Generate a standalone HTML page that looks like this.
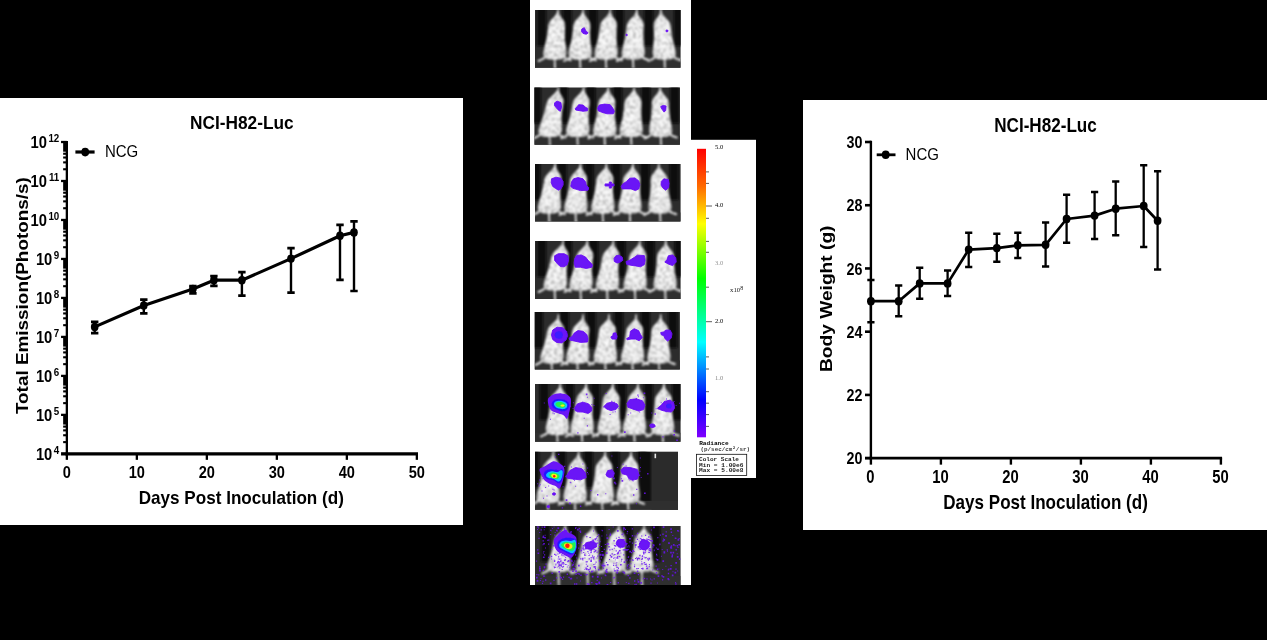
<!DOCTYPE html>
<html><head><meta charset="utf-8"><title>NCI-H82-Luc</title>
<style>html,body{margin:0;padding:0;background:#000;overflow:hidden}svg{display:block;opacity:0.999}text{font-family:"Liberation Sans",sans-serif;fill:#000}.b{font-weight:bold}.mono{font-family:"Liberation Mono",monospace}.serif{font-family:"Liberation Serif",serif}</style></head><body>
<svg width="1267" height="640" viewBox="0 0 1267 640">
<rect x="0" y="0" width="1267" height="640" fill="#000"/>
<rect x="0" y="98" width="463" height="427" fill="#fff"/>
<g stroke="#000" fill="none" stroke-linecap="butt">
<path d="M66.85,140.91000000000005 V455.5" stroke-width="2.3"/>
<path d="M65.69999999999999,453.85 H418.0" stroke-width="3.3"/>
</g>
<g stroke="#000" stroke-width="2.3" fill="none">
<path d="M61.05,414.87 H66.85"/>
<path d="M61.05,375.89000000000004 H66.85"/>
<path d="M61.05,336.91 H66.85"/>
<path d="M61.05,297.93000000000006 H66.85"/>
<path d="M61.05,258.95000000000005 H66.85"/>
<path d="M61.05,219.97000000000003 H66.85"/>
<path d="M61.05,180.99000000000007 H66.85"/>
<path d="M61.05,142.01000000000005 H66.85"/>
<path d="M61.05,453.85 H66.85" stroke-width="3.3"/>
<path d="M66.85,453.85 V459.85"/>
<path d="M136.85,453.85 V459.85"/>
<path d="M206.85,453.85 V459.85"/>
<path d="M276.85,453.85 V459.85"/>
<path d="M346.85,453.85 V459.85"/>
<path d="M416.85,453.85 V459.85"/>
</g>
<g stroke="#000" stroke-width="2.1" fill="none">
<path d="M63.14999999999999,442.12 H66.85"/>
<path d="M63.14999999999999,435.25 H66.85"/>
<path d="M63.14999999999999,430.38 H66.85"/>
<path d="M63.14999999999999,426.60 H66.85"/>
<path d="M63.14999999999999,403.14 H66.85"/>
<path d="M63.14999999999999,396.27 H66.85"/>
<path d="M63.14999999999999,391.40 H66.85"/>
<path d="M63.14999999999999,387.62 H66.85"/>
<path d="M63.14999999999999,364.16 H66.85"/>
<path d="M63.14999999999999,357.29 H66.85"/>
<path d="M63.14999999999999,352.42 H66.85"/>
<path d="M63.14999999999999,348.64 H66.85"/>
<path d="M63.14999999999999,325.18 H66.85"/>
<path d="M63.14999999999999,318.31 H66.85"/>
<path d="M63.14999999999999,313.44 H66.85"/>
<path d="M63.14999999999999,309.66 H66.85"/>
<path d="M63.14999999999999,286.20 H66.85"/>
<path d="M63.14999999999999,279.33 H66.85"/>
<path d="M63.14999999999999,274.46 H66.85"/>
<path d="M63.14999999999999,270.68 H66.85"/>
<path d="M63.14999999999999,247.22 H66.85"/>
<path d="M63.14999999999999,240.35 H66.85"/>
<path d="M63.14999999999999,235.48 H66.85"/>
<path d="M63.14999999999999,231.70 H66.85"/>
<path d="M63.14999999999999,208.24 H66.85"/>
<path d="M63.14999999999999,201.37 H66.85"/>
<path d="M63.14999999999999,196.50 H66.85"/>
<path d="M63.14999999999999,192.72 H66.85"/>
<path d="M63.14999999999999,169.26 H66.85"/>
<path d="M63.14999999999999,162.39 H66.85"/>
<path d="M63.14999999999999,157.52 H66.85"/>
<path d="M63.14999999999999,153.74 H66.85"/>
</g>
<rect x="63.15" y="414.87" width="3.7" height="9.70" fill="#000"/>
<rect x="63.15" y="375.89" width="3.7" height="9.70" fill="#000"/>
<rect x="63.15" y="336.91" width="3.7" height="9.70" fill="#000"/>
<rect x="63.15" y="297.93" width="3.7" height="9.70" fill="#000"/>
<rect x="63.15" y="258.95" width="3.7" height="9.70" fill="#000"/>
<rect x="63.15" y="219.97" width="3.7" height="9.70" fill="#000"/>
<rect x="63.15" y="180.99" width="3.7" height="9.70" fill="#000"/>
<rect x="63.15" y="142.01" width="3.7" height="9.70" fill="#000"/>
<text class="b" transform="translate(59.3,454.2) scale(1.0,1.1)" font-size="9.8" text-anchor="end">4</text>
<text class="b" transform="translate(52.3,459.6) scale(1.0,1.13)" font-size="14.75" text-anchor="end">10</text>
<text class="b" transform="translate(59.3,415.2) scale(1.0,1.1)" font-size="9.8" text-anchor="end">5</text>
<text class="b" transform="translate(52.3,420.6) scale(1.0,1.13)" font-size="14.75" text-anchor="end">10</text>
<text class="b" transform="translate(59.3,376.2) scale(1.0,1.1)" font-size="9.8" text-anchor="end">6</text>
<text class="b" transform="translate(52.3,381.6) scale(1.0,1.13)" font-size="14.75" text-anchor="end">10</text>
<text class="b" transform="translate(59.3,337.2) scale(1.0,1.1)" font-size="9.8" text-anchor="end">7</text>
<text class="b" transform="translate(52.3,342.7) scale(1.0,1.13)" font-size="14.75" text-anchor="end">10</text>
<text class="b" transform="translate(59.3,298.2) scale(1.0,1.1)" font-size="9.8" text-anchor="end">8</text>
<text class="b" transform="translate(52.3,303.7) scale(1.0,1.13)" font-size="14.75" text-anchor="end">10</text>
<text class="b" transform="translate(59.3,259.3) scale(1.0,1.1)" font-size="9.8" text-anchor="end">9</text>
<text class="b" transform="translate(52.3,264.7) scale(1.0,1.13)" font-size="14.75" text-anchor="end">10</text>
<text class="b" transform="translate(59.3,220.3) scale(1.0,1.1)" font-size="9.8" text-anchor="end">10</text>
<text class="b" transform="translate(47.0,225.7) scale(1.0,1.13)" font-size="14.75" text-anchor="end">10</text>
<text class="b" transform="translate(59.3,181.3) scale(1.0,1.1)" font-size="9.8" text-anchor="end">11</text>
<text class="b" transform="translate(47.0,186.7) scale(1.0,1.13)" font-size="14.75" text-anchor="end">10</text>
<text class="b" transform="translate(59.3,142.3) scale(1.0,1.1)" font-size="9.8" text-anchor="end">12</text>
<text class="b" transform="translate(47.0,147.8) scale(1.0,1.13)" font-size="14.75" text-anchor="end">10</text>
<text class="b" transform="translate(66.85,478.3) scale(1.0,1.18)" font-size="14.6" text-anchor="middle">0</text>
<text class="b" transform="translate(136.85,478.3) scale(1.0,1.18)" font-size="14.6" text-anchor="middle">10</text>
<text class="b" transform="translate(206.85,478.3) scale(1.0,1.18)" font-size="14.6" text-anchor="middle">20</text>
<text class="b" transform="translate(276.85,478.3) scale(1.0,1.18)" font-size="14.6" text-anchor="middle">30</text>
<text class="b" transform="translate(346.85,478.3) scale(1.0,1.18)" font-size="14.6" text-anchor="middle">40</text>
<text class="b" transform="translate(416.85,478.3) scale(1.0,1.18)" font-size="14.6" text-anchor="middle">50</text>
<text class="b" transform="translate(241.3,504.4) scale(1.0,1.12)" font-size="17.1" text-anchor="middle">Days Post Inoculation (d)</text>
<text class="b" transform="translate(27.9,295.6) rotate(-90) scale(1.113,1.0)" font-size="17.0" text-anchor="middle">Total Emission(Photons/s)</text>
<text class="b" transform="translate(241.8,129.3) scale(1.0,1.11)" font-size="17.3" text-anchor="middle">NCI-H82-Luc</text>
<path d="M75.4,152.0 H94.6" stroke="#000" stroke-width="3.2" fill="none"/>
<ellipse cx="85.2" cy="152.1" rx="3.9" ry="4.3" fill="#000"/>
<text transform="translate(104.9,156.9) scale(1.0,1.13)" font-size="15.0" text-anchor="start">NCG</text>
<g stroke="#000" fill="none">
<path d="M94.7,321.8 V333.1" stroke-width="2.4"/><path d="M91.0,321.8 H98.4 M91.0,333.1 H98.4" stroke-width="2.7"/>
<path d="M143.8,299.7 V313.4" stroke-width="2.4"/><path d="M140.10000000000002,299.7 H147.5 M140.10000000000002,313.4 H147.5" stroke-width="2.7"/>
<path d="M192.9,286.0 V293.3" stroke-width="2.4"/><path d="M189.20000000000002,286.0 H196.6 M189.20000000000002,293.3 H196.6" stroke-width="2.7"/>
<path d="M213.9,276.2 V285.9" stroke-width="2.4"/><path d="M210.20000000000002,276.2 H217.6 M210.20000000000002,285.9 H217.6" stroke-width="2.7"/>
<path d="M241.9,272.2 V295.6" stroke-width="2.4"/><path d="M238.20000000000002,272.2 H245.6 M238.20000000000002,295.6 H245.6" stroke-width="2.7"/>
<path d="M291.0,248.1 V292.7" stroke-width="2.4"/><path d="M287.3,248.1 H294.7 M287.3,292.7 H294.7" stroke-width="2.7"/>
<path d="M340.0,224.9 V279.8" stroke-width="2.4"/><path d="M336.3,224.9 H343.7 M336.3,279.8 H343.7" stroke-width="2.7"/>
<path d="M354.0,221.3 V291.0" stroke-width="2.4"/><path d="M350.3,221.3 H357.7 M350.3,291.0 H357.7" stroke-width="2.7"/>
</g>
<path d="M94.7,326.9 L143.8,305.5 L192.9,289.0 L213.9,280.2 L241.9,280.2 L291.0,258.6 L340.0,235.7 L354.0,232.4" stroke="#000" stroke-width="3.2" fill="none" stroke-linejoin="round"/>
<ellipse cx="94.7" cy="326.9" rx="3.8" ry="4.2" fill="#000"/>
<ellipse cx="143.8" cy="305.5" rx="3.8" ry="4.2" fill="#000"/>
<ellipse cx="192.9" cy="289.0" rx="3.8" ry="4.2" fill="#000"/>
<ellipse cx="213.9" cy="280.2" rx="3.8" ry="4.2" fill="#000"/>
<ellipse cx="241.9" cy="280.2" rx="3.8" ry="4.2" fill="#000"/>
<ellipse cx="291.0" cy="258.6" rx="3.8" ry="4.2" fill="#000"/>
<ellipse cx="340.0" cy="235.7" rx="3.8" ry="4.2" fill="#000"/>
<ellipse cx="354.0" cy="232.4" rx="3.8" ry="4.2" fill="#000"/>
<defs>
<filter id="bl" x="-20%" y="-20%" width="140%" height="140%"><feGaussianBlur stdDeviation="0.8"/></filter>
<filter id="bl2" x="-20%" y="-20%" width="140%" height="140%"><feGaussianBlur stdDeviation="1.3"/></filter>
<filter id="bl3" x="-20%" y="-20%" width="140%" height="140%"><feGaussianBlur stdDeviation="0.45"/></filter>
<filter id="bl4" x="-5%" y="-5%" width="110%" height="110%"><feGaussianBlur stdDeviation="0.3"/></filter>
<filter id="fur" x="-5%" y="-5%" width="110%" height="110%" color-interpolation-filters="sRGB"><feTurbulence type="fractalNoise" baseFrequency="0.33" numOctaves="2" seed="7" result="n"/><feColorMatrix in="n" type="matrix" values="0 0 0 0 0  0 0 0 0 0  0 0 0 0 0  1.3 0 0 0 -0.56" result="na"/><feFlood flood-color="#555" result="fl"/><feComposite in="fl" in2="na" operator="in" result="dark"/><feComposite in="dark" in2="SourceGraphic" operator="in" result="darkin"/><feMerge result="m"><feMergeNode in="SourceGraphic"/><feMergeNode in="darkin"/></feMerge><feGaussianBlur in="m" stdDeviation="0.95"/></filter>
<linearGradient id="cb" x1="0" y1="0" x2="0" y2="1"><stop offset="0" stop-color="#ff0000"/><stop offset="0.13" stop-color="#ff6a00"/><stop offset="0.26" stop-color="#ffff00"/><stop offset="0.45" stop-color="#00ff00"/><stop offset="0.67" stop-color="#00ffff"/><stop offset="0.87" stop-color="#0000ff"/><stop offset="1" stop-color="#8000ff"/></linearGradient>
<radialGradient id="mg" cx="0.5" cy="0.55" r="0.72"><stop offset="0" stop-color="#ffffff"/><stop offset="0.62" stop-color="#f2f2f2"/><stop offset="1" stop-color="#bcbcbc"/></radialGradient>
</defs>
<rect x="530" y="0" width="161" height="585" fill="#fff"/>
<rect x="691" y="139.8" width="65" height="338.2" fill="#fff"/>
<clipPath id="cp0"><rect x="535" y="10.0" width="145.6" height="57.8"/></clipPath>
<g clip-path="url(#cp0)">
<rect x="534" y="9.0" width="147.6" height="59.8" fill="#2c2c2c"/>
<g filter="url(#bl)" fill="#0c0c0c">
<rect x="562.8" y="8.0" width="9" height="38"/>
<rect x="588.3" y="8.0" width="9" height="38"/>
<rect x="614.8" y="8.0" width="9" height="38"/>
<rect x="644.2" y="8.0" width="9" height="38"/>
<rect x="674.0" y="8.0" width="9" height="38"/>
<rect x="537.1" y="8.0" width="9" height="38"/>
</g>
<rect x="535" y="58.8" width="145.6" height="10" fill="#2f2f2f"/>
<g filter="url(#fur)">
<path d="M554.6,57.5 L555.1,69.8" stroke="#e0e0e0" stroke-width="2.0" fill="none"/>
<path d="M558.5,11.0 C558.7,11.3 558.6,12.1 558.9,12.9 C559.2,13.7 559.8,14.9 560.4,15.9 C561.0,16.8 561.8,17.8 562.5,18.8 C563.2,19.7 564.0,20.7 564.5,21.7 C564.9,22.6 565.0,23.6 565.1,24.6 C565.2,25.6 565.1,26.1 565.1,27.5 C565.0,28.9 564.9,30.7 564.9,32.8 C564.9,34.9 564.9,37.7 565.0,40.1 C565.2,42.5 565.7,45.3 566.0,47.4 C566.2,49.5 566.5,51.3 566.5,52.7 C566.4,54.2 566.1,55.2 565.6,56.1 C565.1,57.0 564.3,57.7 563.2,58.3 C562.2,58.9 561.6,59.3 559.4,59.5 C557.2,59.7 552.0,59.7 549.8,59.5 C547.6,59.3 547.0,58.9 546.0,58.3 C545.0,57.7 544.3,57.0 543.8,56.1 C543.3,55.2 543.2,54.2 543.3,52.7 C543.4,51.3 543.9,49.5 544.4,47.4 C544.9,45.3 545.7,42.5 546.2,40.1 C546.8,37.7 547.2,34.9 547.5,32.8 C547.8,30.7 547.9,28.9 548.1,27.5 C548.3,26.1 548.3,25.6 548.5,24.6 C548.8,23.6 549.1,22.6 549.7,21.7 C550.3,20.7 551.3,19.7 552.1,18.8 C553.0,17.8 554.0,16.8 554.8,15.9 C555.5,14.9 556.3,13.7 556.7,12.9 C557.2,12.1 557.2,11.3 557.5,11.0 C557.8,10.7 558.3,10.7 558.5,11.0 Z" fill="url(#mg)"/>
<path d="M558.0,9.0 V16.0" stroke="#f4f4f4" stroke-width="1.4" fill="none"/>
<path d="M579.9,57.5 L580.4,69.8" stroke="#e0e0e0" stroke-width="2.0" fill="none"/>
<path d="M583.6,11.0 C583.8,11.3 583.7,12.1 584.0,12.9 C584.3,13.7 584.9,14.9 585.5,15.9 C586.1,16.8 587.0,17.8 587.7,18.8 C588.3,19.7 589.2,20.7 589.6,21.7 C590.1,22.6 590.2,23.6 590.3,24.6 C590.4,25.6 590.3,26.1 590.3,27.5 C590.2,28.9 590.1,30.7 590.1,32.8 C590.1,34.9 590.1,37.7 590.3,40.1 C590.5,42.5 591.0,45.3 591.2,47.4 C591.5,49.5 591.8,51.3 591.7,52.7 C591.7,54.2 591.4,55.2 590.9,56.1 C590.4,57.0 589.6,57.7 588.5,58.3 C587.5,58.9 586.9,59.3 584.7,59.5 C582.5,59.7 577.3,59.7 575.1,59.5 C572.9,59.3 572.3,58.9 571.3,58.3 C570.3,57.7 569.6,57.0 569.1,56.1 C568.6,55.2 568.5,54.2 568.5,52.7 C568.6,51.3 569.1,49.5 569.6,47.4 C570.1,45.3 571.0,42.5 571.5,40.1 C572.0,37.7 572.4,34.9 572.7,32.8 C573.0,30.7 573.1,28.9 573.3,27.5 C573.4,26.1 573.4,25.6 573.7,24.6 C573.9,23.6 574.2,22.6 574.8,21.7 C575.4,20.7 576.4,19.7 577.3,18.8 C578.1,17.8 579.1,16.8 579.9,15.9 C580.7,14.9 581.4,13.7 581.8,12.9 C582.3,12.1 582.3,11.3 582.6,11.0 C582.9,10.7 583.4,10.7 583.6,11.0 Z" fill="url(#mg)"/>
<path d="M583.1,9.0 V16.0" stroke="#f4f4f4" stroke-width="1.4" fill="none"/>
<path d="M605.8,57.5 L606.3,69.8" stroke="#e0e0e0" stroke-width="2.0" fill="none"/>
<path d="M610.7,11.0 C610.9,11.3 610.8,12.1 611.1,12.9 C611.4,13.7 611.9,14.9 612.4,15.9 C613.0,16.8 613.8,17.8 614.5,18.8 C615.2,19.7 616.0,20.7 616.4,21.7 C616.8,22.6 616.9,23.6 617.0,24.6 C617.1,25.6 616.9,26.1 616.9,27.5 C616.8,28.9 616.6,30.7 616.5,32.8 C616.5,34.9 616.4,37.7 616.5,40.1 C616.7,42.5 617.1,45.3 617.3,47.4 C617.5,49.5 617.8,51.3 617.7,52.7 C617.7,54.2 617.4,55.2 616.8,56.1 C616.3,57.0 615.5,57.7 614.4,58.3 C613.4,58.9 612.8,59.3 610.6,59.5 C608.4,59.7 603.2,59.7 601.0,59.5 C598.8,59.3 598.2,58.9 597.2,58.3 C596.2,57.7 595.5,57.0 595.0,56.1 C594.6,55.2 594.4,54.2 594.5,52.7 C594.7,51.3 595.2,49.5 595.7,47.4 C596.3,45.3 597.2,42.5 597.7,40.1 C598.3,37.7 598.8,34.9 599.1,32.8 C599.5,30.7 599.7,28.9 599.9,27.5 C600.1,26.1 600.1,25.6 600.4,24.6 C600.7,23.6 601.0,22.6 601.6,21.7 C602.2,20.7 603.2,19.7 604.1,18.8 C605.0,17.8 606.0,16.8 606.8,15.9 C607.6,14.9 608.4,13.7 608.9,12.9 C609.3,12.1 609.4,11.3 609.7,11.0 C610.0,10.7 610.5,10.7 610.7,11.0 Z" fill="url(#mg)"/>
<path d="M610.2,9.0 V16.0" stroke="#f4f4f4" stroke-width="1.4" fill="none"/>
<path d="M632.9,57.5 L633.4,69.8" stroke="#e0e0e0" stroke-width="2.0" fill="none"/>
<path d="M637.2,11.0 C637.4,11.3 637.3,12.1 637.6,12.9 C637.9,13.7 638.4,14.9 639.0,15.9 C639.6,16.8 640.5,17.8 641.1,18.8 C641.8,19.7 642.6,20.7 643.1,21.7 C643.5,22.6 643.6,23.6 643.7,24.6 C643.8,25.6 643.7,26.1 643.6,27.5 C643.6,28.9 643.4,30.7 643.3,32.8 C643.3,34.9 643.3,37.7 643.5,40.1 C643.6,42.5 644.1,45.3 644.3,47.4 C644.6,49.5 644.9,51.3 644.8,52.7 C644.7,54.2 644.5,55.2 643.9,56.1 C643.4,57.0 642.6,57.7 641.5,58.3 C640.5,58.9 639.9,59.3 637.7,59.5 C635.5,59.7 630.3,59.7 628.1,59.5 C625.9,59.3 625.3,58.9 624.3,58.3 C623.3,57.7 622.6,57.0 622.1,56.1 C621.7,55.2 621.5,54.2 621.6,52.7 C621.7,51.3 622.2,49.5 622.7,47.4 C623.2,45.3 624.1,42.5 624.7,40.1 C625.2,37.7 625.6,34.9 625.9,32.8 C626.3,30.7 626.4,28.9 626.6,27.5 C626.8,26.1 626.8,25.6 627.1,24.6 C627.4,23.6 627.6,22.6 628.3,21.7 C628.9,20.7 629.9,19.7 630.7,18.8 C631.6,17.8 632.6,16.8 633.4,15.9 C634.2,14.9 634.9,13.7 635.4,12.9 C635.9,12.1 635.9,11.3 636.2,11.0 C636.5,10.7 637.0,10.7 637.2,11.0 Z" fill="url(#mg)"/>
<path d="M636.7,9.0 V16.0" stroke="#f4f4f4" stroke-width="1.4" fill="none"/>
<path d="M664.5,57.5 L665.0,69.8" stroke="#e0e0e0" stroke-width="2.0" fill="none"/>
<path d="M661.2,11.0 C661.5,11.3 661.5,12.1 662.0,12.9 C662.5,13.7 663.2,14.9 664.0,15.9 C664.8,16.8 665.8,17.8 666.7,18.8 C667.5,19.7 668.5,20.7 669.1,21.7 C669.8,22.6 670.0,23.6 670.3,24.6 C670.6,25.6 670.6,26.1 670.8,27.5 C671.0,28.9 671.1,30.7 671.5,32.8 C671.8,34.9 672.2,37.7 672.7,40.1 C673.3,42.5 674.2,45.3 674.7,47.4 C675.2,49.5 675.7,51.3 675.8,52.7 C675.9,54.2 675.7,55.2 675.3,56.1 C674.8,57.0 674.1,57.7 673.1,58.3 C672.1,58.9 671.5,59.3 669.3,59.5 C667.1,59.7 661.9,59.7 659.7,59.5 C657.5,59.3 656.9,58.9 655.9,58.3 C654.8,57.7 654.0,57.0 653.5,56.1 C652.9,55.2 652.7,54.2 652.6,52.7 C652.5,51.3 652.8,49.5 653.1,47.4 C653.3,45.3 653.8,42.5 653.9,40.1 C654.1,37.7 654.1,34.9 654.1,32.8 C654.0,30.7 653.8,28.9 653.8,27.5 C653.7,26.1 653.6,25.6 653.7,24.6 C653.8,23.6 653.9,22.6 654.3,21.7 C654.8,20.7 655.6,19.7 656.3,18.8 C656.9,17.8 657.8,16.8 658.4,15.9 C659.0,14.9 659.5,13.7 659.8,12.9 C660.1,12.1 660.0,11.3 660.2,11.0 C660.4,10.7 660.9,10.7 661.2,11.0 Z" fill="url(#mg)"/>
<path d="M660.7,9.0 V16.0" stroke="#f4f4f4" stroke-width="1.4" fill="none"/>
<path d="M547.6,55.5 L542.6,59.0 L538.6,60.9 M561.6,55.5 L566.6,58.7 L570.6,60.1" stroke="#e6e6e6" stroke-width="2.2" fill="none" stroke-linecap="round" stroke-linejoin="round"/>
<path d="M572.9,55.5 L567.9,59.0 L563.9,60.9 M586.9,55.5 L591.9,58.7 L595.9,60.1" stroke="#e6e6e6" stroke-width="2.2" fill="none" stroke-linecap="round" stroke-linejoin="round"/>
<path d="M598.8,55.5 L593.8,59.0 L589.8,60.9 M612.8,55.5 L617.8,58.7 L621.8,60.1" stroke="#e6e6e6" stroke-width="2.2" fill="none" stroke-linecap="round" stroke-linejoin="round"/>
<path d="M625.9,55.5 L620.9,59.0 L616.9,60.9 M639.9,55.5 L644.9,58.7 L648.9,60.1" stroke="#e6e6e6" stroke-width="2.2" fill="none" stroke-linecap="round" stroke-linejoin="round"/>
<path d="M657.5,55.5 L652.5,59.0 L648.5,60.9 M671.5,55.5 L676.5,58.7 L680.5,60.1" stroke="#e6e6e6" stroke-width="2.2" fill="none" stroke-linecap="round" stroke-linejoin="round"/>
</g>
<g fill="#6a12f6" stroke="#6a12f6" stroke-width="0.9" stroke-linejoin="round" filter="url(#bl4)">
<path d="M581.8,29.0 L584.3,27.7 L585.6,30.3 L588.1,33.0 L586.2,34.3 L583.0,33.4 L581.5,31.5 Z"/>
<path d="M627.3,34.9 L627.3,35.3 L627.1,35.6 L626.7,35.6 L626.4,35.7 L626.1,35.5 L625.9,35.3 L625.8,34.9 L626.0,34.6 L626.2,34.4 L626.4,34.1 L626.8,34.2 L627.1,34.3 L627.2,34.6 Z"/>
<path d="M668.1,30.9 L668.0,31.4 L667.6,31.6 L667.2,31.8 L666.8,31.9 L666.3,31.7 L666.0,31.3 L666.0,30.9 L666.1,30.4 L666.3,30.1 L666.8,29.9 L667.2,30.0 L667.6,30.1 L667.9,30.5 Z"/>
</g>
</g>
<clipPath id="cp1"><rect x="534.4" y="87.4" width="145.5" height="57.4"/></clipPath>
<g clip-path="url(#cp1)">
<rect x="533.4" y="86.4" width="147.5" height="59.4" fill="#2c2c2c"/>
<g filter="url(#bl)" fill="#0c0c0c">
<rect x="558.9" y="85.4" width="9" height="38"/>
<rect x="586.4" y="85.4" width="9" height="38"/>
<rect x="613.2" y="85.4" width="9" height="38"/>
<rect x="641.4" y="85.4" width="9" height="38"/>
<rect x="670.2" y="85.4" width="9" height="38"/>
<rect x="532.0" y="85.4" width="9" height="38"/>
</g>
<rect x="534.4" y="135.8" width="145.5" height="10" fill="#2f2f2f"/>
<g filter="url(#fur)">
<path d="M549.5,134.9 L550.0,146.8" stroke="#e0e0e0" stroke-width="2.0" fill="none"/>
<path d="M559.0,88.4 C559.2,88.7 558.9,89.5 559.1,90.3 C559.3,91.1 559.7,92.3 560.1,93.2 C560.6,94.2 561.3,95.2 561.9,96.2 C562.4,97.1 563.1,98.1 563.4,99.1 C563.7,100.0 563.7,101.0 563.7,102.0 C563.6,103.0 563.5,103.5 563.2,104.9 C563.0,106.3 562.6,108.1 562.3,110.2 C562.1,112.3 561.7,115.1 561.6,117.5 C561.5,119.9 561.8,122.7 561.8,124.8 C561.8,126.9 562.0,128.7 561.8,130.1 C561.6,131.6 561.3,132.6 560.7,133.5 C560.1,134.4 559.2,135.1 558.2,135.7 C557.1,136.3 556.5,136.7 554.3,136.9 C552.1,137.1 546.9,137.1 544.7,136.9 C542.5,136.7 541.9,136.3 541.0,135.7 C540.0,135.1 539.3,134.4 538.9,133.5 C538.5,132.6 538.4,131.6 538.6,130.1 C538.8,128.7 539.5,126.9 540.2,124.8 C540.9,122.7 542.0,119.9 542.8,117.5 C543.6,115.1 544.4,112.3 544.9,110.2 C545.5,108.1 545.9,106.3 546.2,104.9 C546.6,103.5 546.7,103.0 547.1,102.0 C547.5,101.0 547.9,100.0 548.6,99.1 C549.3,98.1 550.5,97.1 551.5,96.2 C552.5,95.2 553.6,94.2 554.5,93.2 C555.5,92.3 556.4,91.1 556.9,90.3 C557.5,89.5 557.7,88.7 558.0,88.4 C558.3,88.1 558.8,88.1 559.0,88.4 Z" fill="url(#mg)"/>
<path d="M558.5,86.4 V93.4" stroke="#f4f4f4" stroke-width="1.4" fill="none"/>
<path d="M577.3,134.9 L577.8,146.8" stroke="#e0e0e0" stroke-width="2.0" fill="none"/>
<path d="M584.1,88.4 C584.3,88.7 584.1,89.5 584.4,90.3 C584.6,91.1 585.1,92.3 585.6,93.2 C586.1,94.2 586.9,95.2 587.5,96.2 C588.1,97.1 588.9,98.1 589.3,99.1 C589.6,100.0 589.7,101.0 589.7,102.0 C589.7,103.0 589.6,103.5 589.5,104.9 C589.3,106.3 589.0,108.1 588.9,110.2 C588.8,112.3 588.6,115.1 588.6,117.5 C588.7,119.9 589.0,122.7 589.1,124.8 C589.3,126.9 589.5,128.7 589.4,130.1 C589.3,131.6 589.0,132.6 588.4,133.5 C587.8,134.4 587.0,135.1 586.0,135.7 C584.9,136.3 584.3,136.7 582.1,136.9 C579.9,137.1 574.7,137.1 572.5,136.9 C570.3,136.7 569.7,136.3 568.8,135.7 C567.8,135.1 567.0,134.4 566.6,133.5 C566.2,132.6 566.0,131.6 566.2,130.1 C566.3,128.7 566.9,126.9 567.5,124.8 C568.1,122.7 569.2,119.9 569.8,117.5 C570.5,115.1 571.1,112.3 571.5,110.2 C571.9,108.1 572.2,106.3 572.5,104.9 C572.7,103.5 572.8,103.0 573.1,102.0 C573.4,101.0 573.8,100.0 574.5,99.1 C575.1,98.1 576.2,97.1 577.1,96.2 C578.0,95.2 579.2,94.2 580.0,93.2 C580.8,92.3 581.7,91.1 582.2,90.3 C582.7,89.5 582.8,88.7 583.1,88.4 C583.4,88.1 583.9,88.1 584.1,88.4 Z" fill="url(#mg)"/>
<path d="M583.6,86.4 V93.4" stroke="#f4f4f4" stroke-width="1.4" fill="none"/>
<path d="M604.5,134.9 L605.0,146.8" stroke="#e0e0e0" stroke-width="2.0" fill="none"/>
<path d="M608.8,88.4 C609.0,88.7 608.9,89.5 609.2,90.3 C609.5,91.1 610.0,92.3 610.6,93.2 C611.2,94.2 612.1,95.2 612.7,96.2 C613.4,97.1 614.2,98.1 614.7,99.1 C615.1,100.0 615.2,101.0 615.3,102.0 C615.4,103.0 615.3,103.5 615.2,104.9 C615.2,106.3 615.0,108.1 614.9,110.2 C614.9,112.3 614.9,115.1 615.1,117.5 C615.2,119.9 615.7,122.7 615.9,124.8 C616.2,126.9 616.5,128.7 616.4,130.1 C616.3,131.6 616.1,132.6 615.5,133.5 C615.0,134.4 614.2,135.1 613.1,135.7 C612.1,136.3 611.5,136.7 609.3,136.9 C607.1,137.1 601.9,137.1 599.7,136.9 C597.5,136.7 596.9,136.3 595.9,135.7 C594.9,135.1 594.2,134.4 593.7,133.5 C593.3,132.6 593.1,131.6 593.2,130.1 C593.3,128.7 593.8,126.9 594.3,124.8 C594.8,122.7 595.7,119.9 596.3,117.5 C596.8,115.1 597.2,112.3 597.5,110.2 C597.9,108.1 598.0,106.3 598.2,104.9 C598.4,103.5 598.4,103.0 598.7,102.0 C599.0,101.0 599.2,100.0 599.9,99.1 C600.5,98.1 601.5,97.1 602.3,96.2 C603.2,95.2 604.2,94.2 605.0,93.2 C605.8,92.3 606.5,91.1 607.0,90.3 C607.5,89.5 607.5,88.7 607.8,88.4 C608.1,88.1 608.6,88.1 608.8,88.4 Z" fill="url(#mg)"/>
<path d="M608.3,86.4 V93.4" stroke="#f4f4f4" stroke-width="1.4" fill="none"/>
<path d="M631.0,134.9 L631.5,146.8" stroke="#e0e0e0" stroke-width="2.0" fill="none"/>
<path d="M634.7,88.4 C634.9,88.7 634.8,89.5 635.1,90.3 C635.4,91.1 636.0,92.3 636.6,93.2 C637.2,94.2 638.1,95.2 638.8,96.2 C639.4,97.1 640.3,98.1 640.7,99.1 C641.2,100.0 641.3,101.0 641.4,102.0 C641.5,103.0 641.4,103.5 641.4,104.9 C641.3,106.3 641.2,108.1 641.2,110.2 C641.2,112.3 641.2,115.1 641.4,117.5 C641.6,119.9 642.1,122.7 642.3,124.8 C642.6,126.9 642.9,128.7 642.8,130.1 C642.8,131.6 642.5,132.6 642.0,133.5 C641.5,134.4 640.7,135.1 639.6,135.7 C638.6,136.3 638.0,136.7 635.8,136.9 C633.6,137.1 628.4,137.1 626.2,136.9 C624.0,136.7 623.4,136.3 622.4,135.7 C621.4,135.1 620.7,134.4 620.2,133.5 C619.7,132.6 619.6,131.6 619.6,130.1 C619.7,128.7 620.2,126.9 620.7,124.8 C621.2,122.7 622.1,119.9 622.6,117.5 C623.1,115.1 623.5,112.3 623.8,110.2 C624.1,108.1 624.2,106.3 624.4,104.9 C624.5,103.5 624.5,103.0 624.8,102.0 C625.0,101.0 625.3,100.0 625.9,99.1 C626.5,98.1 627.5,97.1 628.4,96.2 C629.2,95.2 630.2,94.2 631.0,93.2 C631.8,92.3 632.5,91.1 632.9,90.3 C633.4,89.5 633.4,88.7 633.7,88.4 C634.0,88.1 634.5,88.1 634.7,88.4 Z" fill="url(#mg)"/>
<path d="M634.2,86.4 V93.4" stroke="#f4f4f4" stroke-width="1.4" fill="none"/>
<path d="M660.7,134.9 L661.2,146.8" stroke="#e0e0e0" stroke-width="2.0" fill="none"/>
<path d="M660.6,88.4 C660.9,88.7 660.8,89.5 661.2,90.3 C661.6,91.1 662.3,92.3 663.0,93.2 C663.7,94.2 664.6,95.2 665.4,96.2 C666.2,97.1 667.1,98.1 667.7,99.1 C668.2,100.0 668.4,101.0 668.6,102.0 C668.8,103.0 668.8,103.5 668.9,104.9 C668.9,106.3 668.9,108.1 669.1,110.2 C669.3,112.3 669.5,115.1 669.9,117.5 C670.3,119.9 671.0,122.7 671.4,124.8 C671.8,126.9 672.2,128.7 672.3,130.1 C672.3,131.6 672.1,132.6 671.6,133.5 C671.1,134.4 670.3,135.1 669.3,135.7 C668.3,136.3 667.7,136.7 665.5,136.9 C663.3,137.1 658.1,137.1 655.9,136.9 C653.7,136.7 653.1,136.3 652.1,135.7 C651.1,135.1 650.3,134.4 649.8,133.5 C649.3,132.6 649.1,131.6 649.1,130.1 C649.1,128.7 649.5,126.9 649.8,124.8 C650.1,122.7 650.8,119.9 651.1,117.5 C651.4,115.1 651.6,112.3 651.7,110.2 C651.8,108.1 651.8,106.3 651.9,104.9 C651.9,103.5 651.8,103.0 652.0,102.0 C652.2,101.0 652.4,100.0 652.9,99.1 C653.4,98.1 654.3,97.1 655.0,96.2 C655.8,95.2 656.7,94.2 657.4,93.2 C658.0,92.3 658.7,91.1 659.0,90.3 C659.4,89.5 659.3,88.7 659.6,88.4 C659.9,88.1 660.3,88.1 660.6,88.4 Z" fill="url(#mg)"/>
<path d="M660.1,86.4 V93.4" stroke="#f4f4f4" stroke-width="1.4" fill="none"/>
<path d="M542.5,132.9 L537.5,136.4 L533.5,138.3 M556.5,132.9 L561.5,136.1 L565.5,137.5" stroke="#e6e6e6" stroke-width="2.2" fill="none" stroke-linecap="round" stroke-linejoin="round"/>
<path d="M570.3,132.9 L565.3,136.4 L561.3,138.3 M584.3,132.9 L589.3,136.1 L593.3,137.5" stroke="#e6e6e6" stroke-width="2.2" fill="none" stroke-linecap="round" stroke-linejoin="round"/>
<path d="M597.5,132.9 L592.5,136.4 L588.5,138.3 M611.5,132.9 L616.5,136.1 L620.5,137.5" stroke="#e6e6e6" stroke-width="2.2" fill="none" stroke-linecap="round" stroke-linejoin="round"/>
<path d="M624.0,132.9 L619.0,136.4 L615.0,138.3 M638.0,132.9 L643.0,136.1 L647.0,137.5" stroke="#e6e6e6" stroke-width="2.2" fill="none" stroke-linecap="round" stroke-linejoin="round"/>
<path d="M653.7,132.9 L648.7,136.4 L644.7,138.3 M667.7,132.9 L672.7,136.1 L676.7,137.5" stroke="#e6e6e6" stroke-width="2.2" fill="none" stroke-linecap="round" stroke-linejoin="round"/>
</g>
<g fill="#6a12f6" stroke="#6a12f6" stroke-width="0.9" stroke-linejoin="round" filter="url(#bl4)">
<path d="M554.6,102.8 L557.1,101.2 L560.9,102.5 L561.6,107.3 L560.3,111.3 L558.0,109.8 L555.9,107.3 L554.4,105.4 Z"/>
<path d="M575.2,108.5 L577.3,106.6 L578.6,104.7 L583.0,105.0 L585.6,107.3 L587.8,108.5 L587.4,110.8 L583.0,111.3 L578.0,110.4 L575.7,110.0 Z"/>
<path d="M597.6,107.9 L599.4,105.0 L604.5,104.1 L610.2,104.7 L612.7,107.9 L614.3,111.3 L613.3,113.8 L607.0,113.8 L602.0,112.3 L598.2,110.8 Z"/>
<path d="M660.7,106.6 L663.2,105.4 L666.1,106.0 L665.7,110.4 L664.1,112.1 L661.9,109.1 Z"/>
</g>
</g>
<clipPath id="cp2"><rect x="535" y="164.0" width="145.6" height="57.5"/></clipPath>
<g clip-path="url(#cp2)">
<rect x="534" y="163.0" width="147.6" height="59.5" fill="#2c2c2c"/>
<g filter="url(#bl)" fill="#0c0c0c">
<rect x="557.7" y="162.0" width="9" height="38"/>
<rect x="584.5" y="162.0" width="9" height="38"/>
<rect x="611.7" y="162.0" width="9" height="38"/>
<rect x="640.4" y="162.0" width="9" height="38"/>
<rect x="669.5" y="162.0" width="9" height="38"/>
<rect x="531.4" y="162.0" width="9" height="38"/>
</g>
<rect x="535" y="212.5" width="145.6" height="10" fill="#2f2f2f"/>
<g filter="url(#fur)">
<path d="M548.9,211.5 L549.4,223.5" stroke="#e0e0e0" stroke-width="2.0" fill="none"/>
<path d="M555.7,165.0 C555.9,165.3 555.7,166.1 556.0,166.9 C556.2,167.7 556.7,168.9 557.2,169.8 C557.7,170.8 558.5,171.8 559.1,172.8 C559.7,173.7 560.5,174.7 560.9,175.7 C561.2,176.6 561.3,177.6 561.3,178.6 C561.3,179.6 561.2,180.1 561.1,181.5 C560.9,182.9 560.6,184.7 560.5,186.8 C560.4,188.9 560.2,191.7 560.2,194.1 C560.3,196.5 560.6,199.3 560.7,201.4 C560.9,203.5 561.1,205.3 561.0,206.7 C560.9,208.2 560.6,209.2 560.0,210.1 C559.4,211.0 558.6,211.7 557.6,212.3 C556.5,212.9 555.9,213.3 553.7,213.5 C551.5,213.7 546.3,213.7 544.1,213.5 C541.9,213.3 541.3,212.9 540.4,212.3 C539.4,211.7 538.6,211.0 538.2,210.1 C537.8,209.2 537.6,208.2 537.8,206.7 C537.9,205.3 538.5,203.5 539.1,201.4 C539.7,199.3 540.8,196.5 541.4,194.1 C542.1,191.7 542.7,188.9 543.1,186.8 C543.5,184.7 543.8,182.9 544.1,181.5 C544.3,180.1 544.4,179.6 544.7,178.6 C545.0,177.6 545.4,176.6 546.1,175.7 C546.7,174.7 547.8,173.7 548.7,172.8 C549.6,171.8 550.8,170.8 551.6,169.8 C552.4,168.9 553.3,167.7 553.8,166.9 C554.3,166.1 554.4,165.3 554.7,165.0 C555.0,164.7 555.5,164.7 555.7,165.0 Z" fill="url(#mg)"/>
<path d="M555.2,163.0 V170.0" stroke="#f4f4f4" stroke-width="1.4" fill="none"/>
<path d="M575.5,211.5 L576.0,223.5" stroke="#e0e0e0" stroke-width="2.0" fill="none"/>
<path d="M581.0,165.0 C581.2,165.3 581.1,166.1 581.3,166.9 C581.6,167.7 582.1,168.9 582.7,169.8 C583.2,170.8 584.0,171.8 584.7,172.8 C585.3,173.7 586.1,174.7 586.5,175.7 C586.9,176.6 587.0,177.6 587.1,178.6 C587.1,179.6 587.0,180.1 586.9,181.5 C586.8,182.9 586.6,184.7 586.5,186.8 C586.4,188.9 586.3,191.7 586.4,194.1 C586.5,196.5 586.9,199.3 587.1,201.4 C587.3,203.5 587.6,205.3 587.5,206.7 C587.4,208.2 587.1,209.2 586.6,210.1 C586.0,211.0 585.2,211.7 584.1,212.3 C583.1,212.9 582.5,213.3 580.3,213.5 C578.1,213.7 572.9,213.7 570.7,213.5 C568.5,213.3 567.9,212.9 566.9,212.3 C566.0,211.7 565.2,211.0 564.8,210.1 C564.3,209.2 564.2,208.2 564.3,206.7 C564.4,205.3 565.0,203.5 565.5,201.4 C566.1,199.3 567.0,196.5 567.6,194.1 C568.2,191.7 568.7,188.9 569.1,186.8 C569.5,184.7 569.7,182.9 569.9,181.5 C570.1,180.1 570.2,179.6 570.5,178.6 C570.8,177.6 571.1,176.6 571.7,175.7 C572.4,174.7 573.4,173.7 574.3,172.8 C575.2,171.8 576.3,170.8 577.1,169.8 C577.9,168.9 578.7,167.7 579.1,166.9 C579.6,166.1 579.7,165.3 580.0,165.0 C580.3,164.7 580.8,164.7 581.0,165.0 Z" fill="url(#mg)"/>
<path d="M580.5,163.0 V170.0" stroke="#f4f4f4" stroke-width="1.4" fill="none"/>
<path d="M602.6,211.5 L603.1,223.5" stroke="#e0e0e0" stroke-width="2.0" fill="none"/>
<path d="M606.9,165.0 C607.1,165.3 607.0,166.1 607.3,166.9 C607.6,167.7 608.1,168.9 608.7,169.8 C609.3,170.8 610.2,171.8 610.8,172.8 C611.5,173.7 612.3,174.7 612.8,175.7 C613.2,176.6 613.3,177.6 613.4,178.6 C613.5,179.6 613.4,180.1 613.3,181.5 C613.3,182.9 613.1,184.7 613.0,186.8 C613.0,188.9 613.0,191.7 613.2,194.1 C613.3,196.5 613.8,199.3 614.0,201.4 C614.3,203.5 614.6,205.3 614.5,206.7 C614.4,208.2 614.2,209.2 613.6,210.1 C613.1,211.0 612.3,211.7 611.2,212.3 C610.2,212.9 609.6,213.3 607.4,213.5 C605.2,213.7 600.0,213.7 597.8,213.5 C595.6,213.3 595.0,212.9 594.0,212.3 C593.0,211.7 592.3,211.0 591.8,210.1 C591.4,209.2 591.2,208.2 591.3,206.7 C591.4,205.3 591.9,203.5 592.4,201.4 C592.9,199.3 593.8,196.5 594.4,194.1 C594.9,191.7 595.3,188.9 595.6,186.8 C596.0,184.7 596.1,182.9 596.3,181.5 C596.5,180.1 596.5,179.6 596.8,178.6 C597.1,177.6 597.3,176.6 598.0,175.7 C598.6,174.7 599.6,173.7 600.4,172.8 C601.3,171.8 602.3,170.8 603.1,169.8 C603.9,168.9 604.6,167.7 605.1,166.9 C605.6,166.1 605.6,165.3 605.9,165.0 C606.2,164.7 606.7,164.7 606.9,165.0 Z" fill="url(#mg)"/>
<path d="M606.4,163.0 V170.0" stroke="#f4f4f4" stroke-width="1.4" fill="none"/>
<path d="M629.7,211.5 L630.2,223.5" stroke="#e0e0e0" stroke-width="2.0" fill="none"/>
<path d="M633.4,165.0 C633.6,165.3 633.5,166.1 633.8,166.9 C634.1,167.7 634.7,168.9 635.3,169.8 C635.9,170.8 636.8,171.8 637.5,172.8 C638.1,173.7 639.0,174.7 639.4,175.7 C639.9,176.6 640.0,177.6 640.1,178.6 C640.2,179.6 640.1,180.1 640.1,181.5 C640.0,182.9 639.9,184.7 639.9,186.8 C639.9,188.9 639.9,191.7 640.1,194.1 C640.3,196.5 640.8,199.3 641.0,201.4 C641.3,203.5 641.6,205.3 641.5,206.7 C641.5,208.2 641.2,209.2 640.7,210.1 C640.2,211.0 639.4,211.7 638.3,212.3 C637.3,212.9 636.7,213.3 634.5,213.5 C632.3,213.7 627.1,213.7 624.9,213.5 C622.7,213.3 622.1,212.9 621.1,212.3 C620.1,211.7 619.4,211.0 618.9,210.1 C618.4,209.2 618.3,208.2 618.3,206.7 C618.4,205.3 618.9,203.5 619.4,201.4 C619.9,199.3 620.8,196.5 621.3,194.1 C621.8,191.7 622.2,188.9 622.5,186.8 C622.8,184.7 622.9,182.9 623.1,181.5 C623.2,180.1 623.2,179.6 623.5,178.6 C623.7,177.6 624.0,176.6 624.6,175.7 C625.2,174.7 626.2,173.7 627.1,172.8 C627.9,171.8 628.9,170.8 629.7,169.8 C630.5,168.9 631.2,167.7 631.6,166.9 C632.1,166.1 632.1,165.3 632.4,165.0 C632.7,164.7 633.2,164.7 633.4,165.0 Z" fill="url(#mg)"/>
<path d="M632.9,163.0 V170.0" stroke="#f4f4f4" stroke-width="1.4" fill="none"/>
<path d="M660.0,211.5 L660.5,223.5" stroke="#e0e0e0" stroke-width="2.0" fill="none"/>
<path d="M659.2,165.0 C659.5,165.3 659.5,166.1 659.9,166.9 C660.3,167.7 661.0,168.9 661.7,169.8 C662.4,170.8 663.4,171.8 664.2,172.8 C665.0,173.7 665.9,174.7 666.5,175.7 C667.0,176.6 667.2,177.6 667.5,178.6 C667.7,179.6 667.6,180.1 667.7,181.5 C667.9,182.9 667.9,184.7 668.1,186.8 C668.3,188.9 668.6,191.7 669.0,194.1 C669.4,196.5 670.2,199.3 670.6,201.4 C671.0,203.5 671.5,205.3 671.5,206.7 C671.5,208.2 671.3,209.2 670.9,210.1 C670.4,211.0 669.6,211.7 668.6,212.3 C667.6,212.9 667.0,213.3 664.8,213.5 C662.6,213.7 657.4,213.7 655.2,213.5 C653.0,213.3 652.4,212.9 651.4,212.3 C650.4,211.7 649.6,211.0 649.1,210.1 C648.5,209.2 648.3,208.2 648.3,206.7 C648.3,205.3 648.7,203.5 649.0,201.4 C649.3,199.3 649.9,196.5 650.2,194.1 C650.5,191.7 650.6,188.9 650.7,186.8 C650.8,184.7 650.7,182.9 650.7,181.5 C650.8,180.1 650.7,179.6 650.9,178.6 C651.0,177.6 651.2,176.6 651.7,175.7 C652.1,174.7 653.0,173.7 653.8,172.8 C654.5,171.8 655.4,170.8 656.1,169.8 C656.7,168.9 657.3,167.7 657.7,166.9 C658.0,166.1 657.9,165.3 658.2,165.0 C658.5,164.7 658.9,164.7 659.2,165.0 Z" fill="url(#mg)"/>
<path d="M658.7,163.0 V170.0" stroke="#f4f4f4" stroke-width="1.4" fill="none"/>
<path d="M541.9,209.5 L536.9,213.0 L532.9,214.9 M555.9,209.5 L560.9,212.7 L564.9,214.1" stroke="#e6e6e6" stroke-width="2.2" fill="none" stroke-linecap="round" stroke-linejoin="round"/>
<path d="M568.5,209.5 L563.5,213.0 L559.5,214.9 M582.5,209.5 L587.5,212.7 L591.5,214.1" stroke="#e6e6e6" stroke-width="2.2" fill="none" stroke-linecap="round" stroke-linejoin="round"/>
<path d="M595.6,209.5 L590.6,213.0 L586.6,214.9 M609.6,209.5 L614.6,212.7 L618.6,214.1" stroke="#e6e6e6" stroke-width="2.2" fill="none" stroke-linecap="round" stroke-linejoin="round"/>
<path d="M622.7,209.5 L617.7,213.0 L613.7,214.9 M636.7,209.5 L641.7,212.7 L645.7,214.1" stroke="#e6e6e6" stroke-width="2.2" fill="none" stroke-linecap="round" stroke-linejoin="round"/>
<path d="M653.0,209.5 L648.0,213.0 L644.0,214.9 M667.0,209.5 L672.0,212.7 L676.0,214.1" stroke="#e6e6e6" stroke-width="2.2" fill="none" stroke-linecap="round" stroke-linejoin="round"/>
</g>
<g fill="#6a12f6" stroke="#6a12f6" stroke-width="0.9" stroke-linejoin="round" filter="url(#bl4)">
<path d="M551.5,178.8 L555.9,177.2 L560.9,178.2 L563.1,181.4 L563.1,185.1 L560.9,188.9 L558.4,190.2 L555.3,188.3 L552.7,186.4 L551.2,182.6 Z"/>
<path d="M571.7,181.4 L573.6,178.8 L578.0,177.6 L583.0,178.8 L585.6,182.0 L586.2,185.1 L588.7,187.7 L588.1,190.2 L580.5,190.6 L572.9,188.3 L570.7,186.4 Z"/>
<path d="M605.1,183.9 L609.3,183.9 L609.3,182.0 L611.4,182.0 L611.4,183.9 L614.0,183.9 L614.0,186.0 L611.4,186.0 L611.4,188.1 L609.3,188.1 L609.3,186.0 L605.1,186.0 Z"/>
<path d="M621.2,186.4 L622.8,183.9 L626.6,181.4 L629.7,178.2 L634.8,177.9 L638.6,180.7 L639.8,184.5 L638.8,188.9 L635.4,190.6 L631.0,188.9 L622.2,188.9 Z"/>
<path d="M661.3,181.4 L663.8,178.8 L668.3,179.5 L669.1,183.3 L668.6,187.7 L665.7,190.2 L662.6,187.7 L661.1,185.1 Z"/>
</g>
</g>
<clipPath id="cp3"><rect x="535" y="241.0" width="145.6" height="58.0"/></clipPath>
<g clip-path="url(#cp3)">
<rect x="534" y="240.0" width="147.6" height="60.0" fill="#2c2c2c"/>
<g filter="url(#bl)" fill="#0c0c0c">
<rect x="563.0" y="239.0" width="9" height="38"/>
<rect x="589.2" y="239.0" width="9" height="38"/>
<rect x="616.4" y="239.0" width="9" height="38"/>
<rect x="645.5" y="239.0" width="9" height="38"/>
<rect x="674.6" y="239.0" width="9" height="38"/>
<rect x="537.1" y="239.0" width="9" height="38"/>
</g>
<rect x="535" y="290.0" width="145.6" height="10" fill="#2f2f2f"/>
<g filter="url(#fur)">
<path d="M554.6,288.5 L555.1,301.0" stroke="#e0e0e0" stroke-width="2.0" fill="none"/>
<path d="M563.6,242.0 C563.8,242.3 563.6,243.1 563.8,243.9 C564.0,244.7 564.3,245.9 564.8,246.8 C565.3,247.8 566.0,248.8 566.6,249.8 C567.1,250.7 567.8,251.7 568.2,252.7 C568.5,253.6 568.5,254.6 568.4,255.6 C568.4,256.6 568.3,257.1 568.1,258.5 C567.8,259.9 567.5,261.7 567.2,263.8 C567.0,265.9 566.7,268.7 566.6,271.1 C566.5,273.5 566.8,276.3 566.8,278.4 C566.8,280.5 567.0,282.3 566.9,283.7 C566.7,285.2 566.4,286.2 565.8,287.1 C565.2,288.0 564.3,288.7 563.3,289.3 C562.2,289.9 561.6,290.3 559.4,290.5 C557.2,290.7 552.0,290.7 549.8,290.5 C547.6,290.3 547.0,289.9 546.1,289.3 C545.1,288.7 544.4,288.0 544.0,287.1 C543.6,286.2 543.5,285.2 543.7,283.7 C543.9,282.3 544.5,280.5 545.2,278.4 C545.9,276.3 547.0,273.5 547.8,271.1 C548.6,268.7 549.3,265.9 549.8,263.8 C550.4,261.7 550.7,259.9 551.1,258.5 C551.4,257.1 551.5,256.6 551.8,255.6 C552.2,254.6 552.6,253.6 553.4,252.7 C554.1,251.7 555.2,250.7 556.2,249.8 C557.2,248.8 558.3,247.8 559.2,246.8 C560.1,245.9 561.0,244.7 561.6,243.9 C562.1,243.1 562.3,242.3 562.6,242.0 C562.9,241.7 563.4,241.7 563.6,242.0 Z" fill="url(#mg)"/>
<path d="M563.1,240.0 V247.0" stroke="#f4f4f4" stroke-width="1.4" fill="none"/>
<path d="M580.5,288.5 L581.0,301.0" stroke="#e0e0e0" stroke-width="2.0" fill="none"/>
<path d="M587.9,242.0 C588.1,242.3 587.9,243.1 588.1,243.9 C588.4,244.7 588.8,245.9 589.3,246.8 C589.8,247.8 590.6,248.8 591.2,249.8 C591.8,250.7 592.5,251.7 592.9,252.7 C593.2,253.6 593.3,254.6 593.3,255.6 C593.3,256.6 593.2,257.1 593.0,258.5 C592.9,259.9 592.5,261.7 592.4,263.8 C592.2,265.9 592.0,268.7 592.0,271.1 C592.0,273.5 592.3,276.3 592.4,278.4 C592.5,280.5 592.8,282.3 592.6,283.7 C592.5,285.2 592.2,286.2 591.6,287.1 C591.0,288.0 590.2,288.7 589.2,289.3 C588.1,289.9 587.5,290.3 585.3,290.5 C583.1,290.7 577.9,290.7 575.7,290.5 C573.5,290.3 572.9,289.9 572.0,289.3 C571.0,288.7 570.2,288.0 569.8,287.1 C569.4,286.2 569.3,285.2 569.4,283.7 C569.6,282.3 570.2,280.5 570.8,278.4 C571.5,276.3 572.5,273.5 573.2,271.1 C573.9,268.7 574.5,265.9 575.0,263.8 C575.4,261.7 575.7,259.9 576.0,258.5 C576.3,257.1 576.4,256.6 576.7,255.6 C577.0,254.6 577.4,253.6 578.1,252.7 C578.8,251.7 579.9,250.7 580.8,249.8 C581.7,248.8 582.9,247.8 583.7,246.8 C584.6,245.9 585.4,244.7 585.9,243.9 C586.5,243.1 586.6,242.3 586.9,242.0 C587.2,241.7 587.7,241.7 587.9,242.0 Z" fill="url(#mg)"/>
<path d="M587.4,240.0 V247.0" stroke="#f4f4f4" stroke-width="1.4" fill="none"/>
<path d="M607.0,288.5 L607.5,301.0" stroke="#e0e0e0" stroke-width="2.0" fill="none"/>
<path d="M613.8,242.0 C614.0,242.3 613.8,243.1 614.1,243.9 C614.3,244.7 614.8,245.9 615.3,246.8 C615.8,247.8 616.6,248.8 617.2,249.8 C617.8,250.7 618.6,251.7 619.0,252.7 C619.3,253.6 619.4,254.6 619.4,255.6 C619.4,256.6 619.3,257.1 619.2,258.5 C619.0,259.9 618.7,261.7 618.6,263.8 C618.5,265.9 618.3,268.7 618.3,271.1 C618.4,273.5 618.7,276.3 618.8,278.4 C619.0,280.5 619.2,282.3 619.1,283.7 C619.0,285.2 618.7,286.2 618.1,287.1 C617.5,288.0 616.7,288.7 615.7,289.3 C614.6,289.9 614.0,290.3 611.8,290.5 C609.6,290.7 604.4,290.7 602.2,290.5 C600.0,290.3 599.4,289.9 598.5,289.3 C597.5,288.7 596.7,288.0 596.3,287.1 C595.9,286.2 595.7,285.2 595.9,283.7 C596.0,282.3 596.6,280.5 597.2,278.4 C597.8,276.3 598.9,273.5 599.5,271.1 C600.2,268.7 600.8,265.9 601.2,263.8 C601.6,261.7 601.9,259.9 602.2,258.5 C602.4,257.1 602.5,256.6 602.8,255.6 C603.1,254.6 603.5,253.6 604.2,252.7 C604.8,251.7 605.9,250.7 606.8,249.8 C607.7,248.8 608.9,247.8 609.7,246.8 C610.5,245.9 611.4,244.7 611.9,243.9 C612.4,243.1 612.5,242.3 612.8,242.0 C613.1,241.7 613.6,241.7 613.8,242.0 Z" fill="url(#mg)"/>
<path d="M613.3,240.0 V247.0" stroke="#f4f4f4" stroke-width="1.4" fill="none"/>
<path d="M634.8,288.5 L635.3,301.0" stroke="#e0e0e0" stroke-width="2.0" fill="none"/>
<path d="M640.3,242.0 C640.5,242.3 640.4,243.1 640.6,243.9 C640.9,244.7 641.4,245.9 642.0,246.8 C642.5,247.8 643.3,248.8 644.0,249.8 C644.6,250.7 645.4,251.7 645.8,252.7 C646.2,253.6 646.3,254.6 646.4,255.6 C646.4,256.6 646.3,257.1 646.2,258.5 C646.1,259.9 645.9,261.7 645.8,263.8 C645.7,265.9 645.6,268.7 645.7,271.1 C645.8,273.5 646.2,276.3 646.4,278.4 C646.6,280.5 646.9,282.3 646.8,283.7 C646.7,285.2 646.4,286.2 645.9,287.1 C645.3,288.0 644.5,288.7 643.4,289.3 C642.4,289.9 641.8,290.3 639.6,290.5 C637.4,290.7 632.2,290.7 630.0,290.5 C627.8,290.3 627.2,289.9 626.2,289.3 C625.3,288.7 624.5,288.0 624.1,287.1 C623.6,286.2 623.5,285.2 623.6,283.7 C623.7,282.3 624.3,280.5 624.8,278.4 C625.4,276.3 626.3,273.5 626.9,271.1 C627.5,268.7 628.0,265.9 628.4,263.8 C628.8,261.7 629.0,259.9 629.2,258.5 C629.4,257.1 629.5,256.6 629.8,255.6 C630.1,254.6 630.4,253.6 631.0,252.7 C631.7,251.7 632.7,250.7 633.6,249.8 C634.5,248.8 635.6,247.8 636.4,246.8 C637.2,245.9 638.0,244.7 638.4,243.9 C638.9,243.1 639.0,242.3 639.3,242.0 C639.6,241.7 640.1,241.7 640.3,242.0 Z" fill="url(#mg)"/>
<path d="M639.8,240.0 V247.0" stroke="#f4f4f4" stroke-width="1.4" fill="none"/>
<path d="M665.1,288.5 L665.6,301.0" stroke="#e0e0e0" stroke-width="2.0" fill="none"/>
<path d="M666.2,242.0 C666.5,242.3 666.4,243.1 666.8,243.9 C667.1,244.7 667.8,245.9 668.4,246.8 C669.1,247.8 670.0,248.8 670.8,249.8 C671.5,250.7 672.4,251.7 672.9,252.7 C673.4,253.6 673.6,254.6 673.8,255.6 C674.0,256.6 673.9,257.1 673.9,258.5 C674.0,259.9 674.0,261.7 674.1,263.8 C674.2,265.9 674.4,268.7 674.7,271.1 C675.0,273.5 675.7,276.3 676.0,278.4 C676.3,280.5 676.7,282.3 676.7,283.7 C676.7,285.2 676.5,286.2 676.0,287.1 C675.5,288.0 674.7,288.7 673.7,289.3 C672.7,289.9 672.1,290.3 669.9,290.5 C667.7,290.7 662.5,290.7 660.3,290.5 C658.1,290.3 657.5,289.9 656.5,289.3 C655.5,288.7 654.7,288.0 654.2,287.1 C653.7,286.2 653.5,285.2 653.5,283.7 C653.6,282.3 654.0,280.5 654.4,278.4 C654.8,276.3 655.5,273.5 655.9,271.1 C656.3,268.7 656.5,265.9 656.7,263.8 C656.9,261.7 656.9,259.9 656.9,258.5 C657.0,257.1 657.0,256.6 657.2,255.6 C657.4,254.6 657.6,253.6 658.1,252.7 C658.7,251.7 659.6,250.7 660.4,249.8 C661.2,248.8 662.1,247.8 662.8,246.8 C663.5,245.9 664.2,244.7 664.6,243.9 C665.0,243.1 664.9,242.3 665.2,242.0 C665.5,241.7 665.9,241.7 666.2,242.0 Z" fill="url(#mg)"/>
<path d="M665.7,240.0 V247.0" stroke="#f4f4f4" stroke-width="1.4" fill="none"/>
<path d="M547.6,286.5 L542.6,290.0 L538.6,291.9 M561.6,286.5 L566.6,289.7 L570.6,291.1" stroke="#e6e6e6" stroke-width="2.2" fill="none" stroke-linecap="round" stroke-linejoin="round"/>
<path d="M573.5,286.5 L568.5,290.0 L564.5,291.9 M587.5,286.5 L592.5,289.7 L596.5,291.1" stroke="#e6e6e6" stroke-width="2.2" fill="none" stroke-linecap="round" stroke-linejoin="round"/>
<path d="M600.0,286.5 L595.0,290.0 L591.0,291.9 M614.0,286.5 L619.0,289.7 L623.0,291.1" stroke="#e6e6e6" stroke-width="2.2" fill="none" stroke-linecap="round" stroke-linejoin="round"/>
<path d="M627.8,286.5 L622.8,290.0 L618.8,291.9 M641.8,286.5 L646.8,289.7 L650.8,291.1" stroke="#e6e6e6" stroke-width="2.2" fill="none" stroke-linecap="round" stroke-linejoin="round"/>
<path d="M658.1,286.5 L653.1,290.0 L649.1,291.9 M672.1,286.5 L677.1,289.7 L681.1,291.1" stroke="#e6e6e6" stroke-width="2.2" fill="none" stroke-linecap="round" stroke-linejoin="round"/>
</g>
<g fill="#6a12f6" stroke="#6a12f6" stroke-width="0.9" stroke-linejoin="round" filter="url(#bl4)">
<path d="M554.6,255.8 L558.4,253.7 L564.1,253.7 L567.9,255.8 L568.5,260.3 L567.2,264.7 L564.1,266.8 L560.3,266.6 L557.1,263.4 L554.6,260.3 Z"/>
<path d="M574.8,258.4 L576.7,255.5 L581.1,254.9 L585.6,257.1 L588.1,260.3 L592.5,264.7 L591.9,267.2 L586.2,268.5 L580.5,267.2 L575.2,267.2 L574.2,262.8 Z"/>
<path d="M614.0,258.4 L615.9,255.8 L619.0,255.2 L622.2,257.1 L622.8,260.3 L620.3,262.1 L617.1,263.0 L614.3,261.5 Z"/>
<path d="M626.0,261.5 L629.7,260.3 L634.8,257.1 L637.3,255.2 L644.3,255.5 L645.2,260.3 L644.3,264.7 L640.5,266.8 L635.4,265.9 L631.0,265.3 L626.6,264.3 Z"/>
<path d="M664.8,262.1 L667.0,259.6 L668.3,255.8 L672.7,254.9 L675.8,257.7 L676.2,262.1 L672.7,265.6 L668.9,264.3 L666.4,263.0 Z"/>
</g>
</g>
<clipPath id="cp4"><rect x="534.7" y="312.0" width="145.2" height="57.5"/></clipPath>
<g clip-path="url(#cp4)">
<rect x="533.7" y="311.0" width="147.2" height="59.5" fill="#2c2c2c"/>
<g filter="url(#bl)" fill="#0c0c0c">
<rect x="559.9" y="310.0" width="9" height="38"/>
<rect x="586.7" y="310.0" width="9" height="38"/>
<rect x="614.2" y="310.0" width="9" height="38"/>
<rect x="641.0" y="310.0" width="9" height="38"/>
<rect x="668.3" y="310.0" width="9" height="38"/>
<rect x="534.0" y="310.0" width="9" height="38"/>
</g>
<rect x="534.7" y="360.5" width="145.2" height="10" fill="#2f2f2f"/>
<g filter="url(#fur)">
<path d="M551.5,361.5 L552.0,371.5" stroke="#e0e0e0" stroke-width="2.0" fill="none"/>
<path d="M558.9,316.8 C559.1,317.1 558.9,317.9 559.1,318.7 C559.4,319.4 559.8,320.5 560.3,321.5 C560.8,322.4 561.6,323.3 562.2,324.3 C562.8,325.2 563.5,326.1 563.9,327.1 C564.2,328.0 564.3,328.9 564.3,329.9 C564.3,330.8 564.2,331.4 564.0,332.7 C563.9,334.0 563.5,335.8 563.4,337.8 C563.2,339.8 563.0,342.5 563.0,344.8 C563.0,347.2 563.3,349.8 563.4,351.8 C563.5,353.8 563.8,355.6 563.6,357.0 C563.5,358.4 563.2,359.3 562.6,360.2 C562.0,361.1 561.2,361.8 560.2,362.3 C559.1,362.9 558.5,363.3 556.3,363.5 C554.1,363.7 548.9,363.7 546.7,363.5 C544.5,363.3 543.9,362.9 543.0,362.3 C542.0,361.8 541.2,361.1 540.8,360.2 C540.4,359.3 540.3,358.4 540.4,357.0 C540.6,355.6 541.2,353.8 541.8,351.8 C542.5,349.8 543.5,347.2 544.2,344.8 C544.9,342.5 545.5,339.8 546.0,337.8 C546.4,335.8 546.7,334.0 547.0,332.7 C547.3,331.4 547.4,330.8 547.7,329.9 C548.0,328.9 548.4,328.0 549.1,327.1 C549.8,326.1 550.9,325.2 551.8,324.3 C552.7,323.3 553.9,322.4 554.7,321.5 C555.6,320.5 556.4,319.4 556.9,318.7 C557.5,317.9 557.6,317.1 557.9,316.8 C558.2,316.5 558.7,316.5 558.9,316.8 Z" fill="url(#mg)"/>
<path d="M558.4,314.3 V321.8" stroke="#f4f4f4" stroke-width="1.4" fill="none"/>
<path d="M577.3,361.5 L577.8,371.5" stroke="#e0e0e0" stroke-width="2.0" fill="none"/>
<path d="M583.5,316.8 C583.7,317.1 583.5,317.9 583.8,318.7 C584.1,319.4 584.5,320.5 585.1,321.5 C585.6,322.4 586.4,323.3 587.0,324.3 C587.7,325.2 588.4,326.1 588.8,327.1 C589.2,328.0 589.3,328.9 589.3,329.9 C589.4,330.8 589.2,331.4 589.1,332.7 C589.0,334.0 588.7,335.8 588.6,337.8 C588.5,339.8 588.4,342.5 588.4,344.8 C588.5,347.2 588.9,349.8 589.0,351.8 C589.2,353.8 589.5,355.6 589.3,357.0 C589.2,358.4 588.9,359.3 588.4,360.2 C587.8,361.1 587.0,361.8 585.9,362.3 C584.9,362.9 584.3,363.3 582.1,363.5 C579.9,363.7 574.7,363.7 572.5,363.5 C570.3,363.3 569.7,362.9 568.7,362.3 C567.8,361.8 567.0,361.1 566.6,360.2 C566.1,359.3 566.0,358.4 566.1,357.0 C566.3,355.6 566.9,353.8 567.4,351.8 C568.0,349.8 569.0,347.2 569.6,344.8 C570.3,342.5 570.8,339.8 571.2,337.8 C571.6,335.8 571.9,334.0 572.1,332.7 C572.4,331.4 572.4,330.8 572.7,329.9 C573.0,328.9 573.4,328.0 574.0,327.1 C574.7,326.1 575.7,325.2 576.6,324.3 C577.6,323.3 578.6,322.4 579.5,321.5 C580.3,320.5 581.1,319.4 581.6,318.7 C582.1,317.9 582.2,317.1 582.5,316.8 C582.8,316.5 583.3,316.5 583.5,316.8 Z" fill="url(#mg)"/>
<path d="M583.0,314.3 V321.8" stroke="#f4f4f4" stroke-width="1.4" fill="none"/>
<path d="M605.1,361.5 L605.6,371.5" stroke="#e0e0e0" stroke-width="2.0" fill="none"/>
<path d="M609.4,316.8 C609.6,317.1 609.5,317.9 609.8,318.7 C610.1,319.4 610.6,320.5 611.2,321.5 C611.8,322.4 612.7,323.3 613.3,324.3 C614.0,325.2 614.8,326.1 615.3,327.1 C615.7,328.0 615.8,328.9 615.9,329.9 C616.0,330.8 615.9,331.4 615.8,332.7 C615.8,334.0 615.6,335.8 615.5,337.8 C615.5,339.8 615.5,342.5 615.7,344.8 C615.8,347.2 616.3,349.8 616.5,351.8 C616.8,353.8 617.1,355.6 617.0,357.0 C616.9,358.4 616.7,359.3 616.1,360.2 C615.6,361.1 614.8,361.8 613.7,362.3 C612.7,362.9 612.1,363.3 609.9,363.5 C607.7,363.7 602.5,363.7 600.3,363.5 C598.1,363.3 597.5,362.9 596.5,362.3 C595.5,361.8 594.8,361.1 594.3,360.2 C593.9,359.3 593.7,358.4 593.8,357.0 C593.9,355.6 594.4,353.8 594.9,351.8 C595.4,349.8 596.3,347.2 596.9,344.8 C597.4,342.5 597.8,339.8 598.1,337.8 C598.5,335.8 598.6,334.0 598.8,332.7 C599.0,331.4 599.0,330.8 599.3,329.9 C599.6,328.9 599.8,328.0 600.5,327.1 C601.1,326.1 602.1,325.2 602.9,324.3 C603.8,323.3 604.8,322.4 605.6,321.5 C606.4,320.5 607.1,319.4 607.6,318.7 C608.1,317.9 608.1,317.1 608.4,316.8 C608.7,316.5 609.2,316.5 609.4,316.8 Z" fill="url(#mg)"/>
<path d="M608.9,314.3 V321.8" stroke="#f4f4f4" stroke-width="1.4" fill="none"/>
<path d="M632.3,361.5 L632.8,371.5" stroke="#e0e0e0" stroke-width="2.0" fill="none"/>
<path d="M636.6,316.8 C636.8,317.1 636.7,317.9 637.0,318.7 C637.3,319.4 637.8,320.5 638.4,321.5 C639.0,322.4 639.9,323.3 640.5,324.3 C641.2,325.2 642.0,326.1 642.5,327.1 C642.9,328.0 643.0,328.9 643.1,329.9 C643.2,330.8 643.1,331.4 643.0,332.7 C643.0,334.0 642.8,335.8 642.7,337.8 C642.7,339.8 642.7,342.5 642.9,344.8 C643.0,347.2 643.5,349.8 643.7,351.8 C644.0,353.8 644.3,355.6 644.2,357.0 C644.1,358.4 643.9,359.3 643.3,360.2 C642.8,361.1 642.0,361.8 640.9,362.3 C639.9,362.9 639.3,363.3 637.1,363.5 C634.9,363.7 629.7,363.7 627.5,363.5 C625.3,363.3 624.7,362.9 623.7,362.3 C622.7,361.8 622.0,361.1 621.5,360.2 C621.1,359.3 620.9,358.4 621.0,357.0 C621.1,355.6 621.6,353.8 622.1,351.8 C622.6,349.8 623.5,347.2 624.1,344.8 C624.6,342.5 625.0,339.8 625.3,337.8 C625.7,335.8 625.8,334.0 626.0,332.7 C626.2,331.4 626.2,330.8 626.5,329.9 C626.8,328.9 627.0,328.0 627.7,327.1 C628.3,326.1 629.3,325.2 630.1,324.3 C631.0,323.3 632.0,322.4 632.8,321.5 C633.6,320.5 634.3,319.4 634.8,318.7 C635.3,317.9 635.3,317.1 635.6,316.8 C635.9,316.5 636.4,316.5 636.6,316.8 Z" fill="url(#mg)"/>
<path d="M636.1,314.3 V321.8" stroke="#f4f4f4" stroke-width="1.4" fill="none"/>
<path d="M658.8,361.5 L659.3,371.5" stroke="#e0e0e0" stroke-width="2.0" fill="none"/>
<path d="M661.2,316.8 C661.5,317.1 661.4,317.9 661.7,318.7 C662.0,319.4 662.6,320.5 663.3,321.5 C663.9,322.4 664.8,323.3 665.5,324.3 C666.2,325.2 667.1,326.1 667.6,327.1 C668.0,328.0 668.2,328.9 668.3,329.9 C668.5,330.8 668.4,331.4 668.4,332.7 C668.4,334.0 668.3,335.8 668.4,337.8 C668.4,339.8 668.5,342.5 668.8,344.8 C669.0,347.2 669.6,349.8 669.9,351.8 C670.2,353.8 670.6,355.6 670.5,357.0 C670.5,358.4 670.3,359.3 669.8,360.2 C669.2,361.1 668.4,361.8 667.4,362.3 C666.4,362.9 665.8,363.3 663.6,363.5 C661.4,363.7 656.2,363.7 654.0,363.5 C651.8,363.3 651.2,362.9 650.2,362.3 C649.2,361.8 648.4,361.1 648.0,360.2 C647.5,359.3 647.3,358.4 647.3,357.0 C647.4,355.6 647.9,353.8 648.3,351.8 C648.8,349.8 649.5,347.2 650.0,344.8 C650.4,342.5 650.7,339.8 651.0,337.8 C651.2,335.8 651.3,334.0 651.4,332.7 C651.5,331.4 651.5,330.8 651.7,329.9 C652.0,328.9 652.2,328.0 652.8,327.1 C653.3,326.1 654.3,325.2 655.1,324.3 C655.9,323.3 656.9,322.4 657.7,321.5 C658.4,320.5 659.1,319.4 659.5,318.7 C659.9,317.9 659.9,317.1 660.2,316.8 C660.5,316.5 660.9,316.5 661.2,316.8 Z" fill="url(#mg)"/>
<path d="M660.7,314.3 V321.8" stroke="#f4f4f4" stroke-width="1.4" fill="none"/>
<path d="M544.5,359.5 L539.5,363.0 L535.5,364.9 M558.5,359.5 L563.5,362.7 L567.5,364.1" stroke="#e6e6e6" stroke-width="2.2" fill="none" stroke-linecap="round" stroke-linejoin="round"/>
<path d="M570.3,359.5 L565.3,363.0 L561.3,364.9 M584.3,359.5 L589.3,362.7 L593.3,364.1" stroke="#e6e6e6" stroke-width="2.2" fill="none" stroke-linecap="round" stroke-linejoin="round"/>
<path d="M598.1,359.5 L593.1,363.0 L589.1,364.9 M612.1,359.5 L617.1,362.7 L621.1,364.1" stroke="#e6e6e6" stroke-width="2.2" fill="none" stroke-linecap="round" stroke-linejoin="round"/>
<path d="M625.3,359.5 L620.3,363.0 L616.3,364.9 M639.3,359.5 L644.3,362.7 L648.3,364.1" stroke="#e6e6e6" stroke-width="2.2" fill="none" stroke-linecap="round" stroke-linejoin="round"/>
<path d="M651.8,359.5 L646.8,363.0 L642.8,364.9 M665.8,359.5 L670.8,362.7 L674.8,364.1" stroke="#e6e6e6" stroke-width="2.2" fill="none" stroke-linecap="round" stroke-linejoin="round"/>
</g>
<g fill="#6a12f6" stroke="#6a12f6" stroke-width="0.9" stroke-linejoin="round" filter="url(#bl4)">
<path d="M551.5,335.0 L552.7,330.0 L557.1,327.2 L562.8,327.7 L566.6,331.3 L567.6,335.7 L566.0,340.1 L561.6,342.9 L556.5,342.4 L552.7,339.5 Z"/>
<ellipse cx="558.8" cy="335.0" rx="4.0" ry="3.8" fill="#3a1cff" stroke="none" filter="url(#bl3)"/>
<path d="M569.1,338.2 L572.3,336.3 L574.2,333.1 L578.0,330.6 L583.0,331.3 L586.8,334.4 L588.1,338.8 L587.4,342.0 L580.5,342.4 L572.9,340.7 L569.8,340.1 Z"/>
<path d="M610.8,336.9 L612.7,335.7 L613.3,333.1 L615.9,332.8 L617.1,336.3 L616.5,339.1 L612.1,339.1 Z"/>
<path d="M626.6,338.6 L629.7,336.9 L630.4,331.3 L634.2,328.7 L638.6,330.6 L640.5,334.4 L642.4,337.6 L639.2,340.7 L635.4,339.1 L631.0,339.1 L627.2,339.8 Z"/>
<path d="M660.7,332.5 L663.8,331.9 L665.7,330.0 L670.2,330.2 L672.0,333.8 L671.2,338.2 L667.6,341.1 L665.1,338.8 L663.8,335.7 L661.3,334.8 Z"/>
</g>
</g>
<clipPath id="cp5"><rect x="535" y="384.0" width="145.6" height="57.8"/></clipPath>
<g clip-path="url(#cp5)">
<rect x="534" y="383.0" width="147.6" height="59.8" fill="#2c2c2c"/>
<g filter="url(#bl)" fill="#0c0c0c">
<rect x="565.0" y="382.0" width="9" height="38"/>
<rect x="590.8" y="382.0" width="9" height="38"/>
<rect x="617.0" y="382.0" width="9" height="38"/>
<rect x="643.9" y="382.0" width="9" height="38"/>
<rect x="672.1" y="382.0" width="9" height="38"/>
<rect x="539.6" y="382.0" width="9" height="38"/>
</g>
<rect x="535" y="432.8" width="145.6" height="10" fill="#2f2f2f"/>
<g filter="url(#fur)">
<path d="M557.1,433.0 L557.6,443.8" stroke="#e0e0e0" stroke-width="2.0" fill="none"/>
<path d="M560.8,385.0 C561.0,385.3 560.9,386.2 561.2,387.0 C561.5,387.8 562.1,389.0 562.7,390.0 C563.3,391.0 564.2,392.0 564.9,393.0 C565.5,394.0 566.4,395.0 566.8,396.0 C567.3,397.0 567.4,398.0 567.5,399.0 C567.6,400.0 567.5,400.6 567.5,402.0 C567.4,403.4 567.3,405.3 567.3,407.5 C567.3,409.7 567.3,412.5 567.5,415.0 C567.7,417.5 568.2,420.3 568.4,422.5 C568.7,424.7 569.0,426.5 568.9,428.0 C568.9,429.5 568.6,430.5 568.1,431.5 C567.6,432.5 566.8,433.2 565.7,433.8 C564.7,434.3 564.1,434.8 561.9,435.0 C559.7,435.2 554.5,435.2 552.3,435.0 C550.1,434.8 549.5,434.3 548.5,433.8 C547.5,433.2 546.8,432.5 546.3,431.5 C545.8,430.5 545.7,429.5 545.7,428.0 C545.8,426.5 546.3,424.7 546.8,422.5 C547.3,420.3 548.2,417.5 548.7,415.0 C549.2,412.5 549.6,409.7 549.9,407.5 C550.2,405.3 550.3,403.4 550.5,402.0 C550.6,400.6 550.6,400.0 550.9,399.0 C551.1,398.0 551.4,397.0 552.0,396.0 C552.6,395.0 553.6,394.0 554.5,393.0 C555.3,392.0 556.3,391.0 557.1,390.0 C557.9,389.0 558.6,387.8 559.0,387.0 C559.5,386.2 559.5,385.3 559.8,385.0 C560.1,384.7 560.6,384.7 560.8,385.0 Z" fill="url(#mg)"/>
<path d="M560.3,383.0 V390.0" stroke="#f4f4f4" stroke-width="1.4" fill="none"/>
<path d="M581.8,433.0 L582.3,443.8" stroke="#e0e0e0" stroke-width="2.0" fill="none"/>
<path d="M586.7,385.0 C586.9,385.3 586.8,386.2 587.1,387.0 C587.4,387.8 587.9,389.0 588.4,390.0 C589.0,391.0 589.8,392.0 590.5,393.0 C591.2,394.0 592.0,395.0 592.4,396.0 C592.8,397.0 592.9,398.0 593.0,399.0 C593.1,400.0 592.9,400.6 592.9,402.0 C592.8,403.4 592.6,405.3 592.5,407.5 C592.5,409.7 592.4,412.5 592.5,415.0 C592.7,417.5 593.1,420.3 593.3,422.5 C593.5,424.7 593.8,426.5 593.7,428.0 C593.7,429.5 593.4,430.5 592.8,431.5 C592.3,432.5 591.5,433.2 590.4,433.8 C589.4,434.3 588.8,434.8 586.6,435.0 C584.4,435.2 579.2,435.2 577.0,435.0 C574.8,434.8 574.2,434.3 573.2,433.8 C572.2,433.2 571.5,432.5 571.0,431.5 C570.6,430.5 570.4,429.5 570.5,428.0 C570.7,426.5 571.2,424.7 571.7,422.5 C572.3,420.3 573.2,417.5 573.7,415.0 C574.3,412.5 574.8,409.7 575.1,407.5 C575.5,405.3 575.7,403.4 575.9,402.0 C576.1,400.6 576.1,400.0 576.4,399.0 C576.7,398.0 577.0,397.0 577.6,396.0 C578.2,395.0 579.2,394.0 580.1,393.0 C581.0,392.0 582.0,391.0 582.8,390.0 C583.6,389.0 584.4,387.8 584.9,387.0 C585.3,386.2 585.4,385.3 585.7,385.0 C586.0,384.7 586.5,384.7 586.7,385.0 Z" fill="url(#mg)"/>
<path d="M586.2,383.0 V390.0" stroke="#f4f4f4" stroke-width="1.4" fill="none"/>
<path d="M608.9,433.0 L609.4,443.8" stroke="#e0e0e0" stroke-width="2.0" fill="none"/>
<path d="M613.2,385.0 C613.4,385.3 613.3,386.2 613.6,387.0 C613.9,387.8 614.4,389.0 615.0,390.0 C615.6,391.0 616.5,392.0 617.1,393.0 C617.8,394.0 618.6,395.0 619.1,396.0 C619.5,397.0 619.6,398.0 619.7,399.0 C619.8,400.0 619.7,400.6 619.6,402.0 C619.6,403.4 619.4,405.3 619.3,407.5 C619.3,409.7 619.3,412.5 619.5,415.0 C619.6,417.5 620.1,420.3 620.3,422.5 C620.6,424.7 620.9,426.5 620.8,428.0 C620.7,429.5 620.5,430.5 619.9,431.5 C619.4,432.5 618.6,433.2 617.5,433.8 C616.5,434.3 615.9,434.8 613.7,435.0 C611.5,435.2 606.3,435.2 604.1,435.0 C601.9,434.8 601.3,434.3 600.3,433.8 C599.3,433.2 598.6,432.5 598.1,431.5 C597.7,430.5 597.5,429.5 597.6,428.0 C597.7,426.5 598.2,424.7 598.7,422.5 C599.2,420.3 600.1,417.5 600.7,415.0 C601.2,412.5 601.6,409.7 601.9,407.5 C602.3,405.3 602.4,403.4 602.6,402.0 C602.8,400.6 602.8,400.0 603.1,399.0 C603.4,398.0 603.6,397.0 604.3,396.0 C604.9,395.0 605.9,394.0 606.7,393.0 C607.6,392.0 608.6,391.0 609.4,390.0 C610.2,389.0 610.9,387.8 611.4,387.0 C611.9,386.2 611.9,385.3 612.2,385.0 C612.5,384.7 613.0,384.7 613.2,385.0 Z" fill="url(#mg)"/>
<path d="M612.7,383.0 V390.0" stroke="#f4f4f4" stroke-width="1.4" fill="none"/>
<path d="M634.2,433.0 L634.7,443.8" stroke="#e0e0e0" stroke-width="2.0" fill="none"/>
<path d="M638.5,385.0 C638.7,385.3 638.6,386.2 638.9,387.0 C639.2,387.8 639.7,389.0 640.3,390.0 C640.9,391.0 641.8,392.0 642.4,393.0 C643.1,394.0 643.9,395.0 644.4,396.0 C644.8,397.0 644.9,398.0 645.0,399.0 C645.1,400.0 645.0,400.6 644.9,402.0 C644.9,403.4 644.7,405.3 644.6,407.5 C644.6,409.7 644.6,412.5 644.8,415.0 C644.9,417.5 645.4,420.3 645.6,422.5 C645.9,424.7 646.2,426.5 646.1,428.0 C646.0,429.5 645.8,430.5 645.2,431.5 C644.7,432.5 643.9,433.2 642.8,433.8 C641.8,434.3 641.2,434.8 639.0,435.0 C636.8,435.2 631.6,435.2 629.4,435.0 C627.2,434.8 626.6,434.3 625.6,433.8 C624.6,433.2 623.9,432.5 623.4,431.5 C623.0,430.5 622.8,429.5 622.9,428.0 C623.0,426.5 623.5,424.7 624.0,422.5 C624.5,420.3 625.4,417.5 626.0,415.0 C626.5,412.5 626.9,409.7 627.2,407.5 C627.6,405.3 627.7,403.4 627.9,402.0 C628.1,400.6 628.1,400.0 628.4,399.0 C628.7,398.0 628.9,397.0 629.6,396.0 C630.2,395.0 631.2,394.0 632.0,393.0 C632.9,392.0 633.9,391.0 634.7,390.0 C635.5,389.0 636.2,387.8 636.7,387.0 C637.2,386.2 637.2,385.3 637.5,385.0 C637.8,384.7 638.3,384.7 638.5,385.0 Z" fill="url(#mg)"/>
<path d="M638.0,383.0 V390.0" stroke="#f4f4f4" stroke-width="1.4" fill="none"/>
<path d="M662.6,433.0 L663.1,443.8" stroke="#e0e0e0" stroke-width="2.0" fill="none"/>
<path d="M664.4,385.0 C664.7,385.3 664.6,386.2 664.9,387.0 C665.3,387.8 665.9,389.0 666.5,390.0 C667.2,391.0 668.1,392.0 668.8,393.0 C669.6,394.0 670.5,395.0 670.9,396.0 C671.4,397.0 671.6,398.0 671.7,399.0 C671.9,400.0 671.8,400.6 671.9,402.0 C671.9,403.4 671.8,405.3 671.9,407.5 C672.0,409.7 672.1,412.5 672.4,415.0 C672.7,417.5 673.3,420.3 673.6,422.5 C673.9,424.7 674.3,426.5 674.3,428.0 C674.3,429.5 674.1,430.5 673.5,431.5 C673.0,432.5 672.2,433.2 671.2,433.8 C670.2,434.3 669.6,434.8 667.4,435.0 C665.2,435.2 660.0,435.2 657.8,435.0 C655.6,434.8 655.0,434.3 654.0,433.8 C653.0,433.2 652.2,432.5 651.7,431.5 C651.3,430.5 651.1,429.5 651.1,428.0 C651.1,426.5 651.6,424.7 652.0,422.5 C652.4,420.3 653.2,417.5 653.6,415.0 C654.0,412.5 654.3,409.7 654.5,407.5 C654.7,405.3 654.7,403.4 654.9,402.0 C655.0,400.6 654.9,400.0 655.1,399.0 C655.4,398.0 655.6,397.0 656.1,396.0 C656.7,395.0 657.6,394.0 658.4,393.0 C659.2,392.0 660.2,391.0 660.9,390.0 C661.6,389.0 662.3,387.8 662.7,387.0 C663.1,386.2 663.1,385.3 663.4,385.0 C663.7,384.7 664.1,384.7 664.4,385.0 Z" fill="url(#mg)"/>
<path d="M663.9,383.0 V390.0" stroke="#f4f4f4" stroke-width="1.4" fill="none"/>
<path d="M550.1,431.0 L545.1,434.5 L541.1,436.4 M564.1,431.0 L569.1,434.2 L573.1,435.6" stroke="#e6e6e6" stroke-width="2.2" fill="none" stroke-linecap="round" stroke-linejoin="round"/>
<path d="M574.8,431.0 L569.8,434.5 L565.8,436.4 M588.8,431.0 L593.8,434.2 L597.8,435.6" stroke="#e6e6e6" stroke-width="2.2" fill="none" stroke-linecap="round" stroke-linejoin="round"/>
<path d="M601.9,431.0 L596.9,434.5 L592.9,436.4 M615.9,431.0 L620.9,434.2 L624.9,435.6" stroke="#e6e6e6" stroke-width="2.2" fill="none" stroke-linecap="round" stroke-linejoin="round"/>
<path d="M627.2,431.0 L622.2,434.5 L618.2,436.4 M641.2,431.0 L646.2,434.2 L650.2,435.6" stroke="#e6e6e6" stroke-width="2.2" fill="none" stroke-linecap="round" stroke-linejoin="round"/>
<path d="M655.6,431.0 L650.6,434.5 L646.6,436.4 M669.6,431.0 L674.6,434.2 L678.6,435.6" stroke="#e6e6e6" stroke-width="2.2" fill="none" stroke-linecap="round" stroke-linejoin="round"/>
</g>
<path d="M662.0,403.8h1.0v1.0h-1.0zM672.6,401.7h1.4v1.4h-1.4zM577.3,432.3h1.2v1.2h-1.2zM643.6,392.4h1.7v1.7h-1.7zM585.8,393.6h1.7v1.7h-1.7zM624.0,431.2h1.7v1.7h-1.7zM662.4,436.3h1.2v1.2h-1.2zM637.2,394.4h1.4v1.4h-1.4zM673.8,430.4h1.4v1.4h-1.4zM543.8,402.6h1.0v1.0h-1.0zM586.8,425.2h1.2v1.2h-1.2zM676.2,439.4h1.7v1.7h-1.7zM673.3,433.9h1.7v1.7h-1.7zM654.5,413.3h1.4v1.4h-1.4zM593.4,405.1h1v1h-1zM591.4,403.9h1v1h-1zM587.4,410.5h1v1h-1zM581.8,410.6h1v1h-1zM585.0,408.7h1v1h-1zM572.6,408.0h1v1h-1zM593.6,397.7h1v1h-1zM582.1,406.6h1v1h-1zM583.7,408.5h1v1h-1zM586.6,403.9h1v1h-1zM581.9,401.8h1v1h-1zM572.9,402.3h1v1h-1zM581.7,405.4h1v1h-1zM579.3,403.6h1v1h-1zM587.7,406.4h1v1h-1zM583.7,417.8h1v1h-1zM580.9,408.0h1v1h-1zM586.9,396.7h1v1h-1zM607.8,406.1h1v1h-1zM613.8,403.3h1v1h-1zM610.8,407.2h1v1h-1zM613.5,404.0h1v1h-1zM614.3,408.6h1v1h-1zM605.6,393.0h1v1h-1zM612.5,411.4h1v1h-1zM609.6,413.9h1v1h-1zM603.2,406.5h1v1h-1zM614.0,401.8h1v1h-1zM610.1,406.1h1v1h-1zM614.7,411.3h1v1h-1zM611.2,400.8h1v1h-1zM618.7,408.0h1v1h-1zM642.9,397.3h1v1h-1zM636.0,397.9h1v1h-1zM632.7,408.7h1v1h-1zM639.2,411.4h1v1h-1zM630.2,412.4h1v1h-1zM636.5,408.7h1v1h-1zM640.2,407.0h1v1h-1zM637.9,396.2h1v1h-1zM637.4,404.4h1v1h-1zM632.9,399.3h1v1h-1zM627.7,414.2h1v1h-1zM633.9,401.2h1v1h-1zM639.2,400.5h1v1h-1zM629.3,406.0h1v1h-1zM634.6,405.2h1v1h-1zM638.2,401.3h1v1h-1zM632.4,405.9h1v1h-1zM633.9,404.2h1v1h-1zM671.1,406.6h1v1h-1zM673.6,401.0h1v1h-1zM666.5,403.9h1v1h-1zM657.7,408.4h1v1h-1zM666.8,400.8h1v1h-1zM672.2,408.2h1v1h-1zM679.0,402.8h1v1h-1zM662.8,403.1h1v1h-1zM660.7,402.3h1v1h-1zM655.6,408.2h1v1h-1zM664.5,405.2h1v1h-1zM666.0,398.6h1v1h-1zM672.9,409.5h1v1h-1zM675.6,405.0h1v1h-1zM663.9,401.1h1v1h-1zM651.3,412.4h1v1h-1zM665.7,411.3h1v1h-1zM673.0,409.2h1v1h-1zM552.8,395.6h1v1h-1zM567.0,404.2h1v1h-1zM562.2,411.6h1v1h-1zM549.9,418.7h1v1h-1zM562.6,412.9h1v1h-1zM569.2,405.0h1v1h-1zM550.9,406.9h1v1h-1zM556.5,410.7h1v1h-1zM560.8,403.9h1v1h-1zM574.9,410.3h1v1h-1zM558.5,397.5h1v1h-1zM549.9,406.0h1v1h-1zM559.6,412.7h1v1h-1zM552.5,412.6h1v1h-1zM553.8,413.2h1v1h-1zM586.2,410.5h1v1h-1zM570.1,405.7h1v1h-1zM556.6,407.7h1v1h-1z" fill="#6a12f6" opacity="0.85"/>
<g fill="#6a12f6" stroke="#6a12f6" stroke-width="0.9" stroke-linejoin="round" filter="url(#bl4)">
<path d="M548.0,399.0 C548.4,397.5 549.9,396.6 551.2,395.7 C552.6,394.9 554.2,394.2 555.9,393.8 C557.7,393.5 559.7,393.2 561.6,393.4 C563.4,393.5 565.7,394.0 567.2,394.8 C568.7,395.6 569.8,396.6 570.5,398.1 C571.1,399.5 571.0,401.8 570.9,403.7 C570.8,405.6 570.4,407.4 570.0,409.3 C569.6,411.2 569.1,413.4 568.6,414.9 C568.0,416.5 567.5,418.6 566.7,418.7 C565.9,418.8 565.2,416.3 563.9,415.4 C562.6,414.5 560.4,414.1 558.7,413.5 C557.1,413.0 555.5,412.8 554.1,412.1 C552.7,411.4 551.2,410.6 550.3,409.3 C549.4,408.1 548.8,406.3 548.4,404.6 C548.0,402.9 547.5,400.5 548.0,399.0 Z" fill="#6a12f6" stroke="none"/>
<path d="M551.7,404.1 C551.8,403.1 552.2,401.7 553.1,400.9 C554.1,400.0 555.7,399.2 557.3,399.0 C559.0,398.8 561.3,399.1 563.0,399.5 C564.6,399.9 566.2,400.5 567.2,401.3 C568.2,402.2 568.9,403.4 569.1,404.6 C569.2,405.9 568.9,407.7 568.1,408.8 C567.3,409.9 565.8,410.9 564.4,411.2 C563.0,411.5 561.2,411.1 559.7,410.7 C558.1,410.3 556.2,409.5 555.0,408.8 C553.8,408.2 553.2,407.7 552.7,407.0 C552.1,406.2 551.6,405.2 551.7,404.1 Z" fill="#2418ff" stroke="none" filter="url(#bl3)"/>
<path d="M553.9,404.1 C553.9,403.3 554.5,402.2 555.5,401.6 C556.4,401.0 558.2,400.7 559.7,400.7 C561.2,400.7 563.1,401.2 564.4,401.8 C565.6,402.4 566.6,403.2 567.0,404.1 C567.4,405.1 567.3,406.6 566.7,407.4 C566.1,408.3 564.8,408.9 563.4,409.1 C562.1,409.3 560.1,408.9 558.7,408.6 C557.4,408.2 556.3,407.7 555.5,407.0 C554.7,406.2 553.9,405.0 553.9,404.1 Z" fill="#10c4ff" stroke="none" filter="url(#bl3)"/>
<path d="M555.5,404.1 C555.5,403.5 556.4,402.6 557.3,402.3 C558.3,401.9 559.9,401.8 561.1,402.0 C562.3,402.2 563.8,403.1 564.6,403.7 C565.3,404.3 565.6,405.1 565.5,405.7 C565.4,406.4 564.8,407.3 563.9,407.6 C563.0,407.9 561.3,407.6 560.1,407.4 C559.0,407.2 557.7,406.9 556.9,406.3 C556.1,405.8 555.4,404.8 555.5,404.1 Z" fill="#20f050" stroke="none" filter="url(#bl3)"/>
<path d="M560.4,405.6 C560.4,405.3 560.9,404.9 561.4,404.7 C561.9,404.6 562.9,404.5 563.4,404.6 C564.0,404.8 564.5,405.2 564.6,405.6 C564.6,405.9 564.1,406.4 563.6,406.6 C563.1,406.7 561.9,406.7 561.4,406.5 C560.8,406.3 560.4,405.9 560.4,405.6 Z" fill="#f6f018" stroke="none" filter="url(#bl3)"/>
<path d="M574.8,407.7 L577.3,403.9 L583.0,402.2 L588.7,403.9 L591.9,407.7 L591.6,411.1 L588.1,413.4 L583.0,412.1 L577.3,411.8 L575.2,410.2 Z"/>
<path d="M603.9,406.4 L607.0,403.3 L612.1,402.0 L617.1,403.9 L618.4,406.4 L615.9,409.6 L610.8,410.6 L606.4,408.9 Z"/>
<path d="M627.0,403.3 L629.7,399.7 L636.1,398.8 L642.4,400.7 L644.9,405.1 L643.6,409.6 L638.6,411.1 L632.9,408.9 L627.9,407.3 Z"/>
<path d="M657.5,408.3 L661.3,405.1 L664.5,401.4 L670.2,400.1 L673.9,403.3 L674.6,408.3 L671.4,412.1 L666.4,411.5 L661.3,410.2 Z"/>
<ellipse cx="668.9" cy="406.0" rx="2.8" ry="2.5" fill="#3a1cff" stroke="none" filter="url(#bl3)"/>
<path d="M655.0,425.7 L655.2,426.6 L654.1,427.0 L653.1,427.5 L651.8,427.6 L650.6,427.2 L650.1,426.5 L649.8,425.7 L649.8,424.9 L650.5,424.2 L651.8,423.9 L653.1,424.0 L654.2,424.4 L654.9,425.0 Z"/>
</g>
</g>
<clipPath id="cp6"><rect x="535" y="451.7" width="143.0" height="58.1"/></clipPath>
<g clip-path="url(#cp6)">
<rect x="534" y="450.7" width="145.0" height="60.1" fill="#2c2c2c"/>
<g filter="url(#bl)" fill="#0c0c0c">
<rect x="556.8" y="449.7" width="9" height="38"/>
<rect x="583.9" y="449.7" width="9" height="38"/>
<rect x="610.5" y="449.7" width="9" height="38"/>
<rect x="637.4" y="449.7" width="9" height="38"/>
<rect x="530.2" y="449.7" width="9" height="38"/>
</g>
<rect x="639.8" y="450.7" width="11.5" height="52" fill="#0e0e0e" filter="url(#bl)"/>
<rect x="651.5" y="451.7" width="27" height="60" fill="#2b2b2b"/>
<rect x="654.5" y="453.7" width="1.6" height="4.5" fill="#e8e8e8" filter="url(#bl3)"/>
<rect x="535" y="500.8" width="143.0" height="10" fill="#2f2f2f"/>
<g filter="url(#fur)">
<path d="M547.7,501.2 L548.2,511.8" stroke="#e0e0e0" stroke-width="2.0" fill="none"/>
<path d="M553.9,453.2 C554.1,453.5 553.9,454.4 554.2,455.2 C554.5,456.0 554.9,457.2 555.5,458.2 C556.0,459.2 556.8,460.2 557.4,461.2 C558.1,462.2 558.8,463.2 559.2,464.2 C559.6,465.2 559.7,466.2 559.7,467.2 C559.8,468.2 559.6,468.8 559.5,470.2 C559.4,471.6 559.1,473.5 559.0,475.7 C558.9,477.9 558.8,480.7 558.8,483.2 C558.9,485.7 559.3,488.5 559.4,490.7 C559.6,492.9 559.9,494.7 559.7,496.2 C559.6,497.7 559.3,498.7 558.8,499.7 C558.2,500.7 557.4,501.4 556.3,501.9 C555.3,502.5 554.7,503.0 552.5,503.2 C550.3,503.4 545.1,503.4 542.9,503.2 C540.7,503.0 540.1,502.5 539.1,501.9 C538.2,501.4 537.4,500.7 537.0,499.7 C536.5,498.7 536.4,497.7 536.5,496.2 C536.7,494.7 537.3,492.9 537.8,490.7 C538.4,488.5 539.4,485.7 540.0,483.2 C540.7,480.7 541.2,477.9 541.6,475.7 C542.0,473.5 542.3,471.6 542.5,470.2 C542.8,468.8 542.8,468.2 543.1,467.2 C543.4,466.2 543.8,465.2 544.4,464.2 C545.1,463.2 546.1,462.2 547.0,461.2 C548.0,460.2 549.0,459.2 549.9,458.2 C550.7,457.2 551.5,456.0 552.0,455.2 C552.5,454.4 552.6,453.5 552.9,453.2 C553.2,452.9 553.7,452.9 553.9,453.2 Z" fill="url(#mg)"/>
<path d="M553.4,450.7 V458.2" stroke="#f4f4f4" stroke-width="1.4" fill="none"/>
<path d="M574.8,501.2 L575.3,511.8" stroke="#e0e0e0" stroke-width="2.0" fill="none"/>
<path d="M579.1,453.2 C579.3,453.5 579.2,454.4 579.5,455.2 C579.8,456.0 580.3,457.2 580.9,458.2 C581.5,459.2 582.4,460.2 583.0,461.2 C583.7,462.2 584.5,463.2 585.0,464.2 C585.4,465.2 585.5,466.2 585.6,467.2 C585.7,468.2 585.6,468.8 585.5,470.2 C585.5,471.6 585.3,473.5 585.2,475.7 C585.2,477.9 585.2,480.7 585.4,483.2 C585.5,485.7 586.0,488.5 586.2,490.7 C586.5,492.9 586.8,494.7 586.7,496.2 C586.6,497.7 586.4,498.7 585.8,499.7 C585.3,500.7 584.5,501.4 583.4,501.9 C582.4,502.5 581.8,503.0 579.6,503.2 C577.4,503.4 572.2,503.4 570.0,503.2 C567.8,503.0 567.2,502.5 566.2,501.9 C565.2,501.4 564.5,500.7 564.0,499.7 C563.6,498.7 563.4,497.7 563.5,496.2 C563.6,494.7 564.1,492.9 564.6,490.7 C565.1,488.5 566.0,485.7 566.6,483.2 C567.1,480.7 567.5,477.9 567.8,475.7 C568.2,473.5 568.3,471.6 568.5,470.2 C568.7,468.8 568.7,468.2 569.0,467.2 C569.3,466.2 569.5,465.2 570.2,464.2 C570.8,463.2 571.8,462.2 572.6,461.2 C573.5,460.2 574.5,459.2 575.3,458.2 C576.1,457.2 576.8,456.0 577.3,455.2 C577.8,454.4 577.8,453.5 578.1,453.2 C578.4,452.9 578.9,452.9 579.1,453.2 Z" fill="url(#mg)"/>
<path d="M578.6,450.7 V458.2" stroke="#f4f4f4" stroke-width="1.4" fill="none"/>
<path d="M602.0,501.2 L602.5,511.8" stroke="#e0e0e0" stroke-width="2.0" fill="none"/>
<path d="M605.7,453.2 C605.9,453.5 605.8,454.4 606.1,455.2 C606.4,456.0 607.0,457.2 607.6,458.2 C608.2,459.2 609.1,460.2 609.8,461.2 C610.4,462.2 611.3,463.2 611.7,464.2 C612.2,465.2 612.3,466.2 612.4,467.2 C612.5,468.2 612.4,468.8 612.4,470.2 C612.3,471.6 612.2,473.5 612.2,475.7 C612.2,477.9 612.2,480.7 612.4,483.2 C612.6,485.7 613.1,488.5 613.3,490.7 C613.6,492.9 613.9,494.7 613.8,496.2 C613.8,497.7 613.5,498.7 613.0,499.7 C612.5,500.7 611.7,501.4 610.6,501.9 C609.6,502.5 609.0,503.0 606.8,503.2 C604.6,503.4 599.4,503.4 597.2,503.2 C595.0,503.0 594.4,502.5 593.4,501.9 C592.4,501.4 591.7,500.7 591.2,499.7 C590.7,498.7 590.6,497.7 590.6,496.2 C590.7,494.7 591.2,492.9 591.7,490.7 C592.2,488.5 593.1,485.7 593.6,483.2 C594.1,480.7 594.5,477.9 594.8,475.7 C595.1,473.5 595.2,471.6 595.4,470.2 C595.5,468.8 595.5,468.2 595.8,467.2 C596.0,466.2 596.3,465.2 596.9,464.2 C597.5,463.2 598.5,462.2 599.4,461.2 C600.2,460.2 601.2,459.2 602.0,458.2 C602.8,457.2 603.5,456.0 603.9,455.2 C604.4,454.4 604.4,453.5 604.7,453.2 C605.0,452.9 605.5,452.9 605.7,453.2 Z" fill="url(#mg)"/>
<path d="M605.2,450.7 V458.2" stroke="#f4f4f4" stroke-width="1.4" fill="none"/>
<path d="M627.9,501.2 L628.4,511.8" stroke="#e0e0e0" stroke-width="2.0" fill="none"/>
<path d="M631.6,453.2 C631.8,453.5 631.7,454.4 632.0,455.2 C632.3,456.0 632.9,457.2 633.5,458.2 C634.1,459.2 635.0,460.2 635.7,461.2 C636.3,462.2 637.2,463.2 637.6,464.2 C638.1,465.2 638.2,466.2 638.3,467.2 C638.4,468.2 638.3,468.8 638.3,470.2 C638.2,471.6 638.1,473.5 638.1,475.7 C638.1,477.9 638.1,480.7 638.3,483.2 C638.5,485.7 639.0,488.5 639.2,490.7 C639.5,492.9 639.8,494.7 639.7,496.2 C639.7,497.7 639.4,498.7 638.9,499.7 C638.4,500.7 637.6,501.4 636.5,501.9 C635.5,502.5 634.9,503.0 632.7,503.2 C630.5,503.4 625.3,503.4 623.1,503.2 C620.9,503.0 620.3,502.5 619.3,501.9 C618.3,501.4 617.6,500.7 617.1,499.7 C616.6,498.7 616.5,497.7 616.5,496.2 C616.6,494.7 617.1,492.9 617.6,490.7 C618.1,488.5 619.0,485.7 619.5,483.2 C620.0,480.7 620.4,477.9 620.7,475.7 C621.0,473.5 621.1,471.6 621.3,470.2 C621.4,468.8 621.4,468.2 621.7,467.2 C621.9,466.2 622.2,465.2 622.8,464.2 C623.4,463.2 624.4,462.2 625.3,461.2 C626.1,460.2 627.1,459.2 627.9,458.2 C628.7,457.2 629.4,456.0 629.8,455.2 C630.3,454.4 630.3,453.5 630.6,453.2 C630.9,452.9 631.4,452.9 631.6,453.2 Z" fill="url(#mg)"/>
<path d="M631.1,450.7 V458.2" stroke="#f4f4f4" stroke-width="1.4" fill="none"/>
<path d="M540.7,499.2 L535.7,502.7 L531.7,504.6 M554.7,499.2 L559.7,502.4 L563.7,503.8" stroke="#e6e6e6" stroke-width="2.2" fill="none" stroke-linecap="round" stroke-linejoin="round"/>
<path d="M567.8,499.2 L562.8,502.7 L558.8,504.6 M581.8,499.2 L586.8,502.4 L590.8,503.8" stroke="#e6e6e6" stroke-width="2.2" fill="none" stroke-linecap="round" stroke-linejoin="round"/>
<path d="M595.0,499.2 L590.0,502.7 L586.0,504.6 M609.0,499.2 L614.0,502.4 L618.0,503.8" stroke="#e6e6e6" stroke-width="2.2" fill="none" stroke-linecap="round" stroke-linejoin="round"/>
<path d="M620.9,499.2 L615.9,502.7 L611.9,504.6 M634.9,499.2 L639.9,502.4 L643.9,503.8" stroke="#e6e6e6" stroke-width="2.2" fill="none" stroke-linecap="round" stroke-linejoin="round"/>
</g>
<path d="M635.9,503.2h1.0v1.0h-1.0zM613.9,481.8h1.7v1.7h-1.7zM543.0,497.7h1.0v1.0h-1.0zM561.7,507.2h1.4v1.4h-1.4zM597.0,494.0h1.4v1.4h-1.4zM633.0,494.3h1.4v1.4h-1.4zM636.2,488.7h1.2v1.2h-1.2zM574.0,479.7h1.0v1.0h-1.0zM575.9,470.6h1.2v1.2h-1.2zM554.9,456.6h1.0v1.0h-1.0zM639.7,457.4h1.2v1.2h-1.2zM647.1,473.0h1.4v1.4h-1.4zM621.5,480.1h1.7v1.7h-1.7zM569.1,502.6h1.7v1.7h-1.7zM563.9,465.7h1.4v1.4h-1.4zM615.2,483.3h1.2v1.2h-1.2zM579.9,505.5h1.4v1.4h-1.4zM613.1,477.6h1.7v1.7h-1.7zM565.3,475.8h1.4v1.4h-1.4zM590.3,489.9h1.2v1.2h-1.2zM558.0,453.7h1.4v1.4h-1.4zM611.4,455.5h1.0v1.0h-1.0zM644.0,492.4h1.7v1.7h-1.7zM605.3,493.3h1.0v1.0h-1.0zM565.7,499.2h1.7v1.7h-1.7zM551.2,464.6h1.4v1.4h-1.4zM577.4,476.2h1v1h-1zM584.1,474.6h1v1h-1zM583.6,469.2h1v1h-1zM587.2,467.4h1v1h-1zM587.7,473.4h1v1h-1zM583.9,473.9h1v1h-1zM578.2,477.7h1v1h-1zM579.3,470.4h1v1h-1zM580.9,473.8h1v1h-1zM575.9,472.7h1v1h-1zM573.3,479.0h1v1h-1zM570.9,466.5h1v1h-1zM570.4,482.2h1v1h-1zM579.2,472.3h1v1h-1zM578.3,473.6h1v1h-1zM575.1,485.8h1v1h-1zM579.4,472.8h1v1h-1zM582.4,463.6h1v1h-1zM571.6,478.0h1v1h-1zM577.4,469.4h1v1h-1zM587.0,471.9h1v1h-1zM568.8,475.3h1v1h-1zM574.4,477.9h1v1h-1zM577.3,473.4h1v1h-1zM571.5,476.3h1v1h-1zM635.7,470.0h1v1h-1zM634.1,477.8h1v1h-1zM633.8,471.5h1v1h-1zM625.6,465.4h1v1h-1zM639.5,470.8h1v1h-1zM622.6,463.7h1v1h-1zM632.6,480.5h1v1h-1zM629.5,474.5h1v1h-1zM631.5,475.5h1v1h-1zM623.2,472.1h1v1h-1zM626.0,474.2h1v1h-1zM631.6,475.0h1v1h-1zM623.3,467.6h1v1h-1zM616.9,466.9h1v1h-1zM624.2,469.9h1v1h-1zM636.5,476.5h1v1h-1zM620.9,478.3h1v1h-1zM640.0,467.1h1v1h-1zM638.3,474.0h1v1h-1zM629.4,479.5h1v1h-1zM628.0,473.9h1v1h-1zM628.4,478.6h1v1h-1zM639.1,474.9h1v1h-1zM640.7,477.1h1v1h-1zM634.4,473.0h1v1h-1zM542.3,478.3h1v1h-1zM537.2,483.3h1v1h-1zM546.5,495.4h1v1h-1zM555.2,467.3h1v1h-1zM539.0,479.5h1v1h-1zM551.1,479.7h1v1h-1zM544.5,472.9h1v1h-1zM545.1,487.0h1v1h-1zM553.6,478.0h1v1h-1zM553.6,489.4h1v1h-1zM548.2,485.4h1v1h-1zM553.7,479.3h1v1h-1zM569.7,481.8h1v1h-1zM545.7,475.9h1v1h-1zM559.9,472.8h1v1h-1zM530.2,464.4h1v1h-1zM540.7,472.7h1v1h-1zM539.7,484.2h1v1h-1zM554.7,483.4h1v1h-1zM538.6,485.6h1v1h-1zM541.5,490.4h1v1h-1zM554.1,471.8h1v1h-1zM553.9,476.7h1v1h-1zM562.6,486.3h1v1h-1zM552.4,488.8h1v1h-1z" fill="#6a12f6" opacity="0.85"/>
<g fill="#6a12f6" stroke="#6a12f6" stroke-width="0.9" stroke-linejoin="round" filter="url(#bl4)">
<path d="M539.7,468.9 C540.2,467.9 542.0,467.8 543.4,467.0 C544.8,466.2 546.6,465.1 548.1,464.2 C549.7,463.2 551.2,461.7 552.8,461.4 C554.4,461.1 555.8,461.5 557.5,462.3 C559.2,463.1 561.9,464.7 563.1,466.1 C564.3,467.5 564.4,468.9 564.5,470.7 C564.6,472.6 564.0,475.3 563.6,477.3 C563.2,479.3 562.9,481.1 562.2,482.9 C561.5,484.8 560.5,488.1 559.4,488.6 C558.2,489.0 556.7,486.5 555.1,485.7 C553.6,485.0 551.6,484.6 550.0,483.9 C548.4,483.1 546.6,482.3 545.3,481.1 C544.0,479.8 542.9,477.8 542.0,476.4 C541.2,475.0 540.5,473.9 540.2,472.6 C539.8,471.4 539.1,469.8 539.7,468.9 Z" fill="#6a12f6" stroke="none"/>
<path d="M543.9,474.0 C544.0,472.9 544.8,471.5 545.8,470.7 C546.8,470.0 548.4,469.5 550.0,469.3 C551.6,469.2 554.1,469.7 555.6,469.8 C557.2,470.0 558.3,470.4 559.4,470.3 C560.5,470.1 561.5,468.6 562.2,468.9 C562.9,469.2 563.5,470.7 563.6,472.1 C563.7,473.6 563.1,476.1 562.6,477.8 C562.2,479.5 561.6,481.6 560.8,482.5 C559.9,483.3 558.7,483.3 557.5,482.9 C556.2,482.5 554.7,480.7 553.3,480.1 C551.9,479.6 550.4,480.0 549.1,479.6 C547.7,479.3 546.2,478.7 545.3,477.8 C544.5,476.8 543.8,475.2 543.9,474.0 Z" fill="#2418ff" stroke="none" filter="url(#bl3)"/>
<path d="M546.2,474.5 C546.6,473.7 547.5,472.7 548.6,472.1 C549.7,471.6 551.3,471.2 552.8,471.2 C554.3,471.2 556.2,472.3 557.5,472.1 C558.8,472.0 559.9,470.4 560.8,470.3 C561.6,470.1 562.4,470.2 562.6,471.2 C562.9,472.2 562.6,474.8 562.2,476.4 C561.8,477.9 561.0,479.7 560.3,480.6 C559.6,481.4 559.1,481.8 558.0,481.5 C556.9,481.2 555.1,479.3 553.7,478.7 C552.3,478.2 550.7,478.6 549.5,478.2 C548.4,477.9 547.3,477.5 546.7,476.8 C546.2,476.2 545.9,475.3 546.2,474.5 Z" fill="#10c4ff" stroke="none" filter="url(#bl3)"/>
<path d="M549.1,475.0 C549.1,474.2 550.4,473.2 551.4,472.8 C552.4,472.4 554.0,472.6 555.1,472.8 C556.3,473.1 557.7,473.7 558.4,474.3 C559.2,474.9 559.6,475.8 559.6,476.6 C559.5,477.3 558.8,478.4 558.0,478.7 C557.1,479.1 555.9,478.9 554.7,478.7 C553.5,478.5 551.9,478.1 550.9,477.5 C550.0,476.9 549.0,475.7 549.1,475.0 Z" fill="#20f050" stroke="none" filter="url(#bl3)"/>
<path d="M551.1,475.4 C551.1,474.8 552.0,473.9 552.8,473.7 C553.6,473.6 555.3,473.9 556.1,474.3 C556.8,474.7 557.4,475.7 557.3,476.4 C557.2,477.0 556.4,477.8 555.6,478.1 C554.9,478.3 553.6,478.2 552.8,477.8 C552.1,477.3 551.1,476.1 551.1,475.4 Z" fill="#f6f018" stroke="none" filter="url(#bl3)"/>
<ellipse cx="554.2" cy="476.2" rx="1.2" ry="1.2" fill="#ff1408" stroke="none"/>
<path d="M566.6,475.7 L569.8,470.6 L575.5,467.5 L581.8,468.7 L585.6,473.1 L586.2,477.6 L580.5,479.8 L572.9,479.1 L567.2,478.2 Z"/>
<path d="M606.0,474.4 L607.7,470.6 L612.1,469.7 L614.3,473.1 L613.3,476.9 L609.5,477.6 L606.8,476.3 Z"/>
<path d="M620.9,470.0 L624.1,467.2 L631.0,467.7 L637.3,469.4 L638.8,474.4 L637.3,479.1 L632.3,480.3 L628.5,478.2 L627.2,475.0 L622.2,473.8 Z"/>
<path d="M555.5,494.0 L555.4,494.5 L554.9,494.9 L554.4,495.3 L553.7,495.1 L552.9,495.1 L552.6,494.6 L552.4,494.0 L552.5,493.4 L553.1,493.1 L553.6,492.7 L554.3,492.7 L554.9,493.1 L555.5,493.4 Z"/>
<path d="M549.5,506.6 L549.4,507.1 L549.2,507.7 L548.6,507.8 L548.0,507.8 L547.5,507.6 L547.2,507.1 L547.0,506.6 L547.1,506.0 L547.6,505.7 L548.0,505.4 L548.6,505.4 L549.1,505.6 L549.5,506.0 Z"/>
</g>
</g>
<clipPath id="cp7"><rect x="535" y="526.0" width="145.6" height="59.0"/></clipPath>
<g clip-path="url(#cp7)">
<rect x="534" y="525.0" width="147.6" height="61.0" fill="#2c2c2c"/>
<g filter="url(#bl)" fill="#0c0c0c">
<rect x="568.4" y="524.0" width="9" height="38"/>
<rect x="596.2" y="524.0" width="9" height="38"/>
<rect x="623.4" y="524.0" width="9" height="38"/>
<rect x="651.2" y="524.0" width="9" height="38"/>
<rect x="540.9" y="524.0" width="9" height="38"/>
</g>
<rect x="535" y="576.0" width="145.6" height="10" fill="#2f2f2f"/>
<g filter="url(#fur)">
<path d="M558.4,570.0 L558.9,587.0" stroke="#e0e0e0" stroke-width="2.0" fill="none"/>
<path d="M565.9,526.5 C566.1,526.8 565.9,527.6 566.1,528.3 C566.4,529.1 566.8,530.1 567.3,531.0 C567.8,532.0 568.6,532.9 569.2,533.8 C569.8,534.7 570.5,535.6 570.9,536.5 C571.2,537.4 571.2,538.3 571.3,539.2 C571.3,540.1 571.1,540.7 571.0,542.0 C570.8,543.3 570.5,545.0 570.3,547.0 C570.1,548.9 569.9,551.5 569.9,553.8 C569.9,556.1 570.3,558.7 570.4,560.6 C570.5,562.6 570.7,564.3 570.5,565.6 C570.4,567.0 570.1,567.9 569.5,568.8 C568.9,569.7 568.1,570.3 567.1,570.9 C566.0,571.4 565.4,571.8 563.2,572.0 C561.0,572.2 555.8,572.2 553.6,572.0 C551.4,571.8 550.8,571.4 549.9,570.9 C548.9,570.3 548.1,569.7 547.7,568.8 C547.3,567.9 547.2,567.0 547.3,565.6 C547.5,564.3 548.1,562.6 548.8,560.6 C549.4,558.7 550.4,556.1 551.1,553.8 C551.8,551.5 552.4,548.9 552.9,547.0 C553.4,545.0 553.7,543.3 554.0,542.0 C554.3,540.7 554.3,540.1 554.7,539.2 C555.0,538.3 555.4,537.4 556.1,536.5 C556.8,535.6 557.8,534.7 558.8,533.8 C559.7,532.9 560.8,532.0 561.7,531.0 C562.6,530.1 563.4,529.1 563.9,528.3 C564.5,527.6 564.6,526.8 564.9,526.5 C565.2,526.2 565.7,526.2 565.9,526.5 Z" fill="url(#mg)"/>
<path d="M565.4,525.0 V531.5" stroke="#f4f4f4" stroke-width="1.4" fill="none"/>
<path d="M587.4,570.0 L587.9,587.0" stroke="#e0e0e0" stroke-width="2.0" fill="none"/>
<path d="M593.6,526.5 C593.8,526.8 593.6,527.6 593.9,528.3 C594.2,529.1 594.6,530.1 595.2,531.0 C595.7,532.0 596.5,532.9 597.1,533.8 C597.8,534.7 598.5,535.6 598.9,536.5 C599.3,537.4 599.4,538.3 599.4,539.2 C599.5,540.1 599.3,540.7 599.2,542.0 C599.1,543.3 598.8,545.0 598.7,547.0 C598.6,548.9 598.5,551.5 598.5,553.8 C598.6,556.1 599.0,558.7 599.1,560.6 C599.3,562.6 599.6,564.3 599.4,565.6 C599.3,567.0 599.0,567.9 598.5,568.8 C597.9,569.7 597.1,570.3 596.0,570.9 C595.0,571.4 594.4,571.8 592.2,572.0 C590.0,572.2 584.8,572.2 582.6,572.0 C580.4,571.8 579.8,571.4 578.8,570.9 C577.9,570.3 577.1,569.7 576.7,568.8 C576.2,567.9 576.1,567.0 576.2,565.6 C576.4,564.3 577.0,562.6 577.5,560.6 C578.1,558.7 579.1,556.1 579.7,553.8 C580.4,551.5 580.9,548.9 581.3,547.0 C581.7,545.0 582.0,543.3 582.2,542.0 C582.5,540.7 582.5,540.1 582.8,539.2 C583.1,538.3 583.5,537.4 584.1,536.5 C584.8,535.6 585.8,534.7 586.7,533.8 C587.7,532.9 588.7,532.0 589.6,531.0 C590.4,530.1 591.2,529.1 591.7,528.3 C592.2,527.6 592.3,526.8 592.6,526.5 C592.9,526.2 593.4,526.2 593.6,526.5 Z" fill="url(#mg)"/>
<path d="M593.1,525.0 V531.5" stroke="#f4f4f4" stroke-width="1.4" fill="none"/>
<path d="M614.0,570.0 L614.5,587.0" stroke="#e0e0e0" stroke-width="2.0" fill="none"/>
<path d="M619.5,526.5 C619.7,526.8 619.6,527.6 619.8,528.3 C620.1,529.1 620.6,530.1 621.2,531.0 C621.7,532.0 622.5,532.9 623.2,533.8 C623.8,534.7 624.6,535.6 625.0,536.5 C625.4,537.4 625.5,538.3 625.6,539.2 C625.6,540.1 625.5,540.7 625.4,542.0 C625.3,543.3 625.1,545.0 625.0,547.0 C624.9,548.9 624.8,551.5 624.9,553.8 C625.0,556.1 625.4,558.7 625.6,560.6 C625.8,562.6 626.1,564.3 626.0,565.6 C625.9,567.0 625.6,567.9 625.1,568.8 C624.5,569.7 623.7,570.3 622.6,570.9 C621.6,571.4 621.0,571.8 618.8,572.0 C616.6,572.2 611.4,572.2 609.2,572.0 C607.0,571.8 606.4,571.4 605.4,570.9 C604.5,570.3 603.7,569.7 603.3,568.8 C602.8,567.9 602.7,567.0 602.8,565.6 C602.9,564.3 603.5,562.6 604.0,560.6 C604.6,558.7 605.5,556.1 606.1,553.8 C606.7,551.5 607.2,548.9 607.6,547.0 C608.0,545.0 608.2,543.3 608.4,542.0 C608.6,540.7 608.7,540.1 609.0,539.2 C609.3,538.3 609.6,537.4 610.2,536.5 C610.9,535.6 611.9,534.7 612.8,533.8 C613.7,532.9 614.8,532.0 615.6,531.0 C616.4,530.1 617.2,529.1 617.6,528.3 C618.1,527.6 618.2,526.8 618.5,526.5 C618.8,526.2 619.3,526.2 619.5,526.5 Z" fill="url(#mg)"/>
<path d="M619.0,525.0 V531.5" stroke="#f4f4f4" stroke-width="1.4" fill="none"/>
<path d="M641.7,570.0 L642.2,587.0" stroke="#e0e0e0" stroke-width="2.0" fill="none"/>
<path d="M644.7,526.5 C644.9,526.8 644.8,527.6 645.2,528.3 C645.5,529.1 646.1,530.1 646.7,531.0 C647.3,532.0 648.2,532.9 648.9,533.8 C649.6,534.7 650.5,535.6 650.9,536.5 C651.4,537.4 651.5,538.3 651.6,539.2 C651.8,540.1 651.7,540.7 651.7,542.0 C651.6,543.3 651.5,545.0 651.5,547.0 C651.6,548.9 651.6,551.5 651.9,553.8 C652.1,556.1 652.6,558.7 652.9,560.6 C653.2,562.6 653.5,564.3 653.5,565.6 C653.5,567.0 653.2,567.9 652.7,568.8 C652.1,569.7 651.4,570.3 650.3,570.9 C649.3,571.4 648.7,571.8 646.5,572.0 C644.3,572.2 639.1,572.2 636.9,572.0 C634.7,571.8 634.1,571.4 633.1,570.9 C632.1,570.3 631.3,569.7 630.9,568.8 C630.4,567.9 630.2,567.0 630.3,565.6 C630.4,564.3 630.9,562.6 631.3,560.6 C631.8,558.7 632.6,556.1 633.1,553.8 C633.5,551.5 633.9,548.9 634.1,547.0 C634.4,545.0 634.5,543.3 634.7,542.0 C634.8,540.7 634.8,540.1 635.0,539.2 C635.3,538.3 635.5,537.4 636.1,536.5 C636.7,535.6 637.7,534.7 638.5,533.8 C639.3,532.9 640.3,532.0 641.1,531.0 C641.8,530.1 642.5,529.1 643.0,528.3 C643.4,527.6 643.4,526.8 643.7,526.5 C644.0,526.2 644.5,526.2 644.7,526.5 Z" fill="url(#mg)"/>
<path d="M644.2,525.0 V531.5" stroke="#f4f4f4" stroke-width="1.4" fill="none"/>
<path d="M551.4,568.0 L546.4,571.5 L542.4,573.4 M565.4,568.0 L570.4,571.2 L574.4,572.6" stroke="#e6e6e6" stroke-width="2.2" fill="none" stroke-linecap="round" stroke-linejoin="round"/>
<path d="M580.4,568.0 L575.4,571.5 L571.4,573.4 M594.4,568.0 L599.4,571.2 L603.4,572.6" stroke="#e6e6e6" stroke-width="2.2" fill="none" stroke-linecap="round" stroke-linejoin="round"/>
<path d="M607.0,568.0 L602.0,571.5 L598.0,573.4 M621.0,568.0 L626.0,571.2 L630.0,572.6" stroke="#e6e6e6" stroke-width="2.2" fill="none" stroke-linecap="round" stroke-linejoin="round"/>
<path d="M634.7,568.0 L629.7,571.5 L625.7,573.4 M648.7,568.0 L653.7,571.2 L657.7,572.6" stroke="#e6e6e6" stroke-width="2.2" fill="none" stroke-linecap="round" stroke-linejoin="round"/>
</g>
<path d="M570.6,559.7h1.7v1.7h-1.7zM604.8,543.9h1.2v1.2h-1.2zM596.4,557.6h1.0v1.0h-1.0zM571.2,560.5h1.4v1.4h-1.4zM657.2,537.0h1.2v1.2h-1.2zM668.3,568.6h1.2v1.2h-1.2zM570.3,532.6h1.2v1.2h-1.2zM544.2,536.9h1.7v1.7h-1.7zM574.1,540.1h1.7v1.7h-1.7zM597.8,573.7h1.0v1.0h-1.0zM623.6,549.2h1.4v1.4h-1.4zM651.5,579.5h1.0v1.0h-1.0zM656.9,568.5h1.4v1.4h-1.4zM558.9,538.7h1.0v1.0h-1.0zM623.1,571.5h1.2v1.2h-1.2zM650.4,582.6h1.2v1.2h-1.2zM633.7,572.4h1.7v1.7h-1.7zM648.4,557.7h1.7v1.7h-1.7zM584.6,548.1h1.0v1.0h-1.0zM606.6,548.6h1.0v1.0h-1.0zM634.0,580.3h1.4v1.4h-1.4zM537.0,549.2h1.4v1.4h-1.4zM572.2,548.4h1.4v1.4h-1.4zM662.0,579.2h1.2v1.2h-1.2zM667.4,578.1h1.7v1.7h-1.7zM594.8,549.7h1.7v1.7h-1.7zM649.8,549.8h1.7v1.7h-1.7zM642.6,542.9h1.2v1.2h-1.2zM544.6,534.7h1.0v1.0h-1.0zM662.5,540.3h1.4v1.4h-1.4zM672.3,534.9h1.0v1.0h-1.0zM539.0,566.2h1.4v1.4h-1.4zM569.7,578.2h1.4v1.4h-1.4zM549.8,582.6h1.7v1.7h-1.7zM659.8,534.6h1.2v1.2h-1.2zM543.8,567.5h1.0v1.0h-1.0zM578.0,564.7h1.7v1.7h-1.7zM667.0,550.7h1.0v1.0h-1.0zM648.1,536.3h1.4v1.4h-1.4zM571.8,564.8h1.4v1.4h-1.4zM536.8,579.7h1.2v1.2h-1.2zM559.4,534.7h1.2v1.2h-1.2zM569.7,549.4h1.0v1.0h-1.0zM626.6,533.3h1.0v1.0h-1.0zM675.3,562.1h1.7v1.7h-1.7zM630.9,551.9h1.4v1.4h-1.4zM652.3,546.6h1.2v1.2h-1.2zM563.1,548.9h1.2v1.2h-1.2zM543.4,551.1h1.0v1.0h-1.0zM670.2,528.3h1.7v1.7h-1.7zM566.6,573.6h1.4v1.4h-1.4zM675.1,582.0h1.0v1.0h-1.0zM572.5,567.7h1.7v1.7h-1.7zM575.2,570.2h1.7v1.7h-1.7zM598.0,534.1h1.2v1.2h-1.2zM589.5,545.5h1.0v1.0h-1.0zM643.1,553.2h1.4v1.4h-1.4zM580.5,549.7h1.7v1.7h-1.7zM617.0,530.1h1.7v1.7h-1.7zM602.1,553.8h1.7v1.7h-1.7zM609.2,549.2h1.4v1.4h-1.4zM622.4,538.9h1.4v1.4h-1.4zM552.1,528.0h1.0v1.0h-1.0zM612.7,526.4h1.0v1.0h-1.0zM669.9,568.1h1.7v1.7h-1.7zM585.6,561.2h1.2v1.2h-1.2zM592.9,541.3h1.7v1.7h-1.7zM609.4,534.7h1.4v1.4h-1.4zM595.2,569.6h1.0v1.0h-1.0zM605.9,571.2h1.7v1.7h-1.7zM597.2,555.6h1.2v1.2h-1.2zM637.8,574.1h1.2v1.2h-1.2zM634.8,544.2h1.7v1.7h-1.7zM626.1,549.1h1.7v1.7h-1.7zM541.6,526.5h1.2v1.2h-1.2zM641.1,535.4h1.2v1.2h-1.2zM572.1,570.4h1.7v1.7h-1.7zM637.9,557.5h1.4v1.4h-1.4zM591.0,570.7h1.7v1.7h-1.7zM582.4,559.4h1.0v1.0h-1.0zM601.5,564.6h1.4v1.4h-1.4zM665.2,535.0h1.7v1.7h-1.7zM663.4,539.1h1.7v1.7h-1.7zM553.6,526.6h1.0v1.0h-1.0zM610.0,581.9h1.2v1.2h-1.2zM542.8,535.4h1.2v1.2h-1.2zM576.5,577.4h1.0v1.0h-1.0zM585.6,574.1h1.4v1.4h-1.4zM583.7,573.5h1.0v1.0h-1.0zM623.5,546.1h1.0v1.0h-1.0zM622.6,543.0h1.0v1.0h-1.0zM567.7,560.0h1.7v1.7h-1.7zM554.4,539.2h1.7v1.7h-1.7zM641.0,539.1h1.2v1.2h-1.2zM603.8,564.8h1.7v1.7h-1.7zM581.4,548.4h1.2v1.2h-1.2zM632.1,550.1h1.7v1.7h-1.7zM584.0,554.6h1.2v1.2h-1.2zM590.2,560.5h1.0v1.0h-1.0zM641.1,543.9h1.2v1.2h-1.2zM677.5,539.4h1.4v1.4h-1.4zM635.3,545.0h1.0v1.0h-1.0zM624.8,528.8h1.2v1.2h-1.2zM647.8,538.9h1.4v1.4h-1.4zM648.2,551.7h1.2v1.2h-1.2zM537.5,552.4h1.7v1.7h-1.7zM626.9,531.1h1.2v1.2h-1.2zM590.7,558.6h1.0v1.0h-1.0zM670.1,551.8h1.7v1.7h-1.7zM536.3,574.0h1.2v1.2h-1.2zM542.5,544.2h1.0v1.0h-1.0zM566.6,539.7h1.7v1.7h-1.7zM542.9,552.4h1.0v1.0h-1.0zM605.2,575.1h1.2v1.2h-1.2zM557.4,553.5h1.0v1.0h-1.0zM604.7,574.5h1.4v1.4h-1.4zM539.0,567.7h1.7v1.7h-1.7zM615.9,564.5h1.0v1.0h-1.0zM623.0,532.8h1.0v1.0h-1.0zM544.0,554.2h1.2v1.2h-1.2zM544.0,575.6h1.2v1.2h-1.2zM592.4,539.5h1.7v1.7h-1.7zM561.2,542.0h1.4v1.4h-1.4zM584.7,548.0h1.4v1.4h-1.4zM650.2,534.2h1.0v1.0h-1.0zM543.7,526.2h1.7v1.7h-1.7zM562.7,555.3h1.0v1.0h-1.0zM614.3,553.9h1.2v1.2h-1.2zM618.9,549.9h1.7v1.7h-1.7zM595.2,539.3h1.0v1.0h-1.0zM629.1,537.9h1.7v1.7h-1.7zM670.1,546.9h1.7v1.7h-1.7zM578.2,542.7h1.2v1.2h-1.2zM650.9,529.5h1.0v1.0h-1.0zM577.3,572.9h1.2v1.2h-1.2zM602.2,565.5h1.2v1.2h-1.2zM563.8,528.2h1.2v1.2h-1.2zM657.1,548.4h1.7v1.7h-1.7zM609.7,533.9h1.4v1.4h-1.4zM603.0,563.3h1.2v1.2h-1.2zM536.6,580.0h1.7v1.7h-1.7zM670.8,547.4h1.4v1.4h-1.4zM608.5,528.9h1.2v1.2h-1.2zM558.1,538.4h1.0v1.0h-1.0zM618.4,536.7h1.2v1.2h-1.2zM602.6,565.0h1.4v1.4h-1.4zM615.5,564.9h1.0v1.0h-1.0zM551.1,558.6h1.0v1.0h-1.0zM613.4,540.1h1.4v1.4h-1.4zM644.0,577.7h1.2v1.2h-1.2zM553.1,545.1h1.4v1.4h-1.4zM558.5,564.5h1.4v1.4h-1.4zM665.6,531.3h1.2v1.2h-1.2zM667.7,569.2h1.2v1.2h-1.2zM605.9,568.7h1.7v1.7h-1.7zM543.7,566.3h1.7v1.7h-1.7zM631.8,535.1h1.4v1.4h-1.4zM645.9,565.4h1.4v1.4h-1.4zM661.5,575.4h1.4v1.4h-1.4zM579.5,530.4h1.7v1.7h-1.7zM620.0,563.9h1.7v1.7h-1.7zM574.9,546.0h1.7v1.7h-1.7zM551.5,572.6h1.4v1.4h-1.4zM677.2,570.6h1.0v1.0h-1.0zM670.8,545.2h1.4v1.4h-1.4zM625.1,559.8h1.0v1.0h-1.0zM665.4,565.7h1.0v1.0h-1.0zM626.7,564.8h1.0v1.0h-1.0zM613.7,568.5h1.0v1.0h-1.0zM636.2,567.9h1.4v1.4h-1.4zM639.2,546.0h1.4v1.4h-1.4zM593.0,530.4h1.0v1.0h-1.0zM663.5,551.9h1.7v1.7h-1.7zM662.7,526.3h1.7v1.7h-1.7zM677.4,546.8h1.2v1.2h-1.2zM558.8,558.4h1.4v1.4h-1.4zM537.1,526.2h1.4v1.4h-1.4zM629.3,550.7h1.7v1.7h-1.7zM634.4,584.0h1.0v1.0h-1.0zM601.0,577.4h1.0v1.0h-1.0zM551.2,548.9h1.0v1.0h-1.0zM573.2,568.1h1.7v1.7h-1.7zM596.1,583.5h1.4v1.4h-1.4zM601.5,529.8h1.0v1.0h-1.0zM611.5,553.2h1.4v1.4h-1.4zM596.2,582.9h1.4v1.4h-1.4zM644.4,563.9h1.2v1.2h-1.2zM568.6,540.3h1.7v1.7h-1.7zM575.3,527.1h1.2v1.2h-1.2zM597.1,542.4h1.4v1.4h-1.4zM634.3,535.4h1.2v1.2h-1.2zM624.9,548.9h1.7v1.7h-1.7zM645.4,563.5h1.4v1.4h-1.4zM617.7,569.7h1.0v1.0h-1.0zM635.6,583.7h1.2v1.2h-1.2zM655.8,572.0h1.4v1.4h-1.4zM639.2,544.2h1.4v1.4h-1.4zM598.5,582.3h1.7v1.7h-1.7zM565.1,531.7h1.0v1.0h-1.0zM627.2,567.5h1.2v1.2h-1.2zM542.5,540.2h1.4v1.4h-1.4zM606.2,534.5h1.0v1.0h-1.0zM676.8,556.0h1.7v1.7h-1.7zM674.7,545.2h1.0v1.0h-1.0zM580.3,574.5h1.4v1.4h-1.4zM586.3,544.7h1.2v1.2h-1.2zM588.0,568.9h1.7v1.7h-1.7zM640.3,582.1h1.7v1.7h-1.7zM543.7,529.3h1.0v1.0h-1.0zM595.8,546.1h1.0v1.0h-1.0zM540.5,529.2h1.4v1.4h-1.4zM656.4,555.2h1.0v1.0h-1.0zM573.1,564.3h1.0v1.0h-1.0zM675.3,568.4h1.4v1.4h-1.4zM646.9,558.3h1.0v1.0h-1.0zM550.9,555.8h1.4v1.4h-1.4zM646.5,567.5h1.7v1.7h-1.7zM677.6,538.7h1.7v1.7h-1.7zM641.9,567.8h1.7v1.7h-1.7zM584.8,533.4h1.0v1.0h-1.0zM554.7,542.1h1.7v1.7h-1.7zM648.6,566.2h1.0v1.0h-1.0zM628.1,582.7h1.4v1.4h-1.4zM584.5,553.5h1.0v1.0h-1.0zM635.0,557.9h1.2v1.2h-1.2zM599.4,554.0h1.7v1.7h-1.7zM577.0,528.7h1.7v1.7h-1.7zM613.1,577.2h1.4v1.4h-1.4zM586.2,536.0h1.2v1.2h-1.2zM538.2,574.2h1.2v1.2h-1.2zM606.8,563.9h1.7v1.7h-1.7zM637.7,546.1h1.7v1.7h-1.7zM672.5,551.8h1.7v1.7h-1.7zM632.2,559.6h1.4v1.4h-1.4zM633.9,566.1h1.2v1.2h-1.2zM640.8,582.4h1.0v1.0h-1.0zM649.9,578.4h1.2v1.2h-1.2zM579.9,580.6h1.0v1.0h-1.0zM656.7,559.1h1.7v1.7h-1.7zM648.9,539.4h1.4v1.4h-1.4zM678.9,558.2h1.7v1.7h-1.7zM637.6,581.1h1.7v1.7h-1.7zM565.2,548.2h1.4v1.4h-1.4zM663.0,538.5h1.0v1.0h-1.0zM539.9,580.1h1.0v1.0h-1.0zM564.8,529.7h1.2v1.2h-1.2zM653.6,578.3h1.2v1.2h-1.2zM631.7,528.2h1.4v1.4h-1.4zM616.4,571.8h1.7v1.7h-1.7zM559.7,576.2h1.0v1.0h-1.0zM644.8,552.3h1.0v1.0h-1.0zM615.0,545.4h1.4v1.4h-1.4zM625.8,582.1h1.0v1.0h-1.0zM542.5,536.3h1.7v1.7h-1.7zM659.2,543.9h1.4v1.4h-1.4zM668.1,542.2h1.7v1.7h-1.7zM568.2,536.3h1.4v1.4h-1.4zM543.0,575.6h1.2v1.2h-1.2zM672.5,571.2h1.0v1.0h-1.0zM553.9,559.7h1.0v1.0h-1.0zM593.5,566.1h1.7v1.7h-1.7zM670.4,546.1h1.4v1.4h-1.4zM606.5,537.3h1.7v1.7h-1.7zM580.0,531.9h1.2v1.2h-1.2zM563.6,563.4h1.0v1.0h-1.0zM554.2,534.6h1.2v1.2h-1.2zM587.8,583.4h1.7v1.7h-1.7zM539.2,531.9h1.0v1.0h-1.0zM634.1,564.6h1.0v1.0h-1.0zM644.0,549.1h1.2v1.2h-1.2zM596.6,579.8h1.2v1.2h-1.2zM587.9,545.6h1.0v1.0h-1.0zM545.0,547.4h1.0v1.0h-1.0zM653.1,526.6h1.7v1.7h-1.7zM559.2,534.3h1.2v1.2h-1.2zM562.0,578.7h1.2v1.2h-1.2zM593.6,551.3h1.2v1.2h-1.2zM663.5,551.3h1.7v1.7h-1.7zM550.6,530.3h1.0v1.0h-1.0zM569.8,557.4h1.0v1.0h-1.0zM602.2,550.9h1.0v1.0h-1.0zM558.4,571.1h1.7v1.7h-1.7zM563.0,576.5h1.2v1.2h-1.2zM667.8,572.8h1.4v1.4h-1.4zM646.3,538.6h1.2v1.2h-1.2zM574.4,546.3h1.7v1.7h-1.7zM643.6,562.3h1.2v1.2h-1.2zM590.4,551.6h1.4v1.4h-1.4zM586.9,574.1h1.0v1.0h-1.0zM670.7,531.6h1.4v1.4h-1.4zM542.8,569.7h1.2v1.2h-1.2zM580.1,558.2h1.4v1.4h-1.4zM574.9,554.2h1.2v1.2h-1.2zM570.1,532.1h1.4v1.4h-1.4zM606.6,583.9h1.7v1.7h-1.7zM608.4,543.5h1.0v1.0h-1.0zM671.8,574.6h1.7v1.7h-1.7zM548.0,543.5h1.2v1.2h-1.2zM550.0,529.8h1.0v1.0h-1.0zM537.0,529.1h1.0v1.0h-1.0zM564.2,528.7h1.0v1.0h-1.0zM652.9,544.5h1.7v1.7h-1.7zM627.8,564.0h1.0v1.0h-1.0zM671.3,555.8h1.7v1.7h-1.7zM562.1,539.2h1.7v1.7h-1.7zM637.0,532.7h1.2v1.2h-1.2zM678.3,543.9h1.7v1.7h-1.7zM672.9,544.1h1.7v1.7h-1.7zM569.3,569.2h1.4v1.4h-1.4zM589.6,568.4h1.2v1.2h-1.2zM627.8,556.2h1.4v1.4h-1.4zM542.5,580.9h1.0v1.0h-1.0zM642.7,578.6h1.0v1.0h-1.0zM555.9,577.2h1.4v1.4h-1.4zM540.5,578.0h1.0v1.0h-1.0zM662.6,576.1h1.7v1.7h-1.7zM637.1,579.2h1.4v1.4h-1.4zM555.1,566.7h1.0v1.0h-1.0zM594.5,538.3h1.7v1.7h-1.7zM537.6,553.1h1.0v1.0h-1.0zM547.0,539.7h1.0v1.0h-1.0zM660.0,534.7h1.0v1.0h-1.0zM614.2,576.7h1.0v1.0h-1.0zM671.7,554.3h1.4v1.4h-1.4zM557.4,527.2h1.7v1.7h-1.7zM621.2,558.8h1.2v1.2h-1.2zM668.1,578.9h1.4v1.4h-1.4zM676.6,545.1h1.4v1.4h-1.4zM560.2,576.9h1.7v1.7h-1.7zM574.1,560.4h1.2v1.2h-1.2zM678.2,530.8h1.0v1.0h-1.0zM591.8,575.8h1.7v1.7h-1.7zM592.5,570.4h1.2v1.2h-1.2zM662.2,569.1h1.0v1.0h-1.0zM538.4,537.8h1.2v1.2h-1.2zM609.7,554.7h1.4v1.4h-1.4zM623.1,529.2h1.2v1.2h-1.2zM596.9,576.1h1.7v1.7h-1.7zM576.1,557.4h1.2v1.2h-1.2zM646.0,568.3h1.0v1.0h-1.0zM574.8,565.9h1.2v1.2h-1.2zM570.4,531.0h1.4v1.4h-1.4zM601.7,555.0h1.0v1.0h-1.0zM646.4,578.2h1.2v1.2h-1.2zM572.4,563.9h1.2v1.2h-1.2zM662.3,533.6h1.4v1.4h-1.4zM670.4,564.9h1.4v1.4h-1.4zM574.0,583.3h1.4v1.4h-1.4zM649.9,540.1h1.2v1.2h-1.2zM573.6,541.0h1.2v1.2h-1.2zM666.6,549.2h1.4v1.4h-1.4zM537.8,527.6h1.0v1.0h-1.0zM594.9,566.2h1.2v1.2h-1.2zM550.2,534.0h1.0v1.0h-1.0zM578.8,527.9h1.4v1.4h-1.4zM568.4,543.6h1.0v1.0h-1.0zM564.0,559.4h1.7v1.7h-1.7zM545.5,563.6h1.2v1.2h-1.2zM558.9,552.0h1.7v1.7h-1.7zM588.7,558.3h1.2v1.2h-1.2zM608.3,546.1h1.4v1.4h-1.4zM637.9,568.1h1.0v1.0h-1.0zM542.9,556.4h1.7v1.7h-1.7zM621.5,533.7h1.4v1.4h-1.4zM583.2,546.5h1.0v1.0h-1.0zM661.4,574.9h1.0v1.0h-1.0zM660.9,555.7h1.0v1.0h-1.0zM591.1,581.9h1.4v1.4h-1.4zM542.6,580.8h1.0v1.0h-1.0zM662.4,560.2h1.7v1.7h-1.7zM623.6,561.2h1.7v1.7h-1.7zM556.1,529.8h1.4v1.4h-1.4zM543.2,542.9h1.7v1.7h-1.7zM639.2,554.8h1.4v1.4h-1.4zM677.0,529.9h1.7v1.7h-1.7zM554.0,553.7h1.4v1.4h-1.4zM591.8,545.5h1.2v1.2h-1.2zM545.0,579.3h1.4v1.4h-1.4zM636.9,570.6h1.4v1.4h-1.4zM623.1,527.3h1.7v1.7h-1.7zM566.5,550.6h1.7v1.7h-1.7zM595.1,583.2h1.0v1.0h-1.0zM616.8,553.0h1.4v1.4h-1.4zM643.3,546.5h1.0v1.0h-1.0zM605.8,552.3h1.7v1.7h-1.7zM601.4,535.4h1.0v1.0h-1.0zM629.2,577.3h1.4v1.4h-1.4zM617.6,582.1h1.4v1.4h-1.4zM556.2,537.0h1.0v1.0h-1.0zM675.5,549.1h1.4v1.4h-1.4zM556.7,530.4h1.2v1.2h-1.2zM623.7,572.3h1.4v1.4h-1.4zM586.8,565.6h1.4v1.4h-1.4zM645.6,541.3h1.4v1.4h-1.4zM568.4,576.7h1.4v1.4h-1.4zM648.8,542.4h1.4v1.4h-1.4zM541.9,582.7h1.2v1.2h-1.2zM629.3,541.3h1.2v1.2h-1.2zM598.9,560.0h1.7v1.7h-1.7zM606.0,562.0h1.0v1.0h-1.0zM626.7,559.4h1.2v1.2h-1.2zM590.1,541.9h1.0v1.0h-1.0zM678.7,538.1h1.0v1.0h-1.0zM586.8,583.2h1.4v1.4h-1.4zM575.4,573.5h1.4v1.4h-1.4zM595.5,561.6h1.2v1.2h-1.2zM642.9,551.6h1.7v1.7h-1.7zM661.7,549.0h1.0v1.0h-1.0zM548.1,539.6h1.2v1.2h-1.2zM618.0,568.0h1.0v1.0h-1.0zM569.9,546.0h1.4v1.4h-1.4zM621.7,534.2h1.0v1.0h-1.0zM627.5,574.9h1.4v1.4h-1.4zM563.6,529.9h1.4v1.4h-1.4zM559.8,529.9h1.2v1.2h-1.2zM599.4,541.0h1.2v1.2h-1.2zM553.9,567.1h1.2v1.2h-1.2zM539.1,569.7h1.7v1.7h-1.7zM655.4,565.4h1.4v1.4h-1.4zM610.6,556.1h1.7v1.7h-1.7zM605.2,570.3h1.4v1.4h-1.4zM647.7,559.3h1.0v1.0h-1.0zM606.7,543.0h1.7v1.7h-1.7zM560.4,558.4h1.0v1.0h-1.0zM630.8,557.0h1.0v1.0h-1.0zM556.9,561.8h1.7v1.7h-1.7zM675.5,538.1h1.0v1.0h-1.0zM602.1,530.2h1.0v1.0h-1.0zM586.0,568.2h1.7v1.7h-1.7zM601.3,551.1h1.0v1.0h-1.0zM536.0,576.7h1.7v1.7h-1.7zM588.9,571.0h1.2v1.2h-1.2zM674.5,571.8h1.7v1.7h-1.7zM554.7,531.9h1.0v1.0h-1.0zM676.7,553.3h1.0v1.0h-1.0zM582.9,548.2h1.0v1.0h-1.0zM535.9,560.6h1.2v1.2h-1.2zM572.6,543.8h1.7v1.7h-1.7zM616.5,569.6h1.7v1.7h-1.7zM655.7,558.4h1.0v1.0h-1.0zM616.4,557.3h1.4v1.4h-1.4zM626.8,565.3h1.4v1.4h-1.4zM675.2,583.3h1.4v1.4h-1.4zM566.7,538.5h1.4v1.4h-1.4zM555.2,554.4h1.4v1.4h-1.4zM617.4,552.1h1.7v1.7h-1.7zM609.8,532.7h1.0v1.0h-1.0zM622.2,571.6h1.0v1.0h-1.0zM600.2,553.8h1.4v1.4h-1.4zM590.3,560.3h1.7v1.7h-1.7zM657.6,575.3h1.7v1.7h-1.7zM611.6,548.8h1.2v1.2h-1.2zM674.7,537.4h1.7v1.7h-1.7zM659.4,543.5h1.2v1.2h-1.2zM560.0,539.4h1.4v1.4h-1.4zM598.0,569.0h1.4v1.4h-1.4zM585.4,567.6h1.4v1.4h-1.4zM652.3,569.6h1.0v1.0h-1.0zM629.2,567.1h1.2v1.2h-1.2zM575.9,583.3h1.4v1.4h-1.4zM598.3,581.5h1.7v1.7h-1.7zM578.5,573.3h1.4v1.4h-1.4zM651.3,540.1h1.7v1.7h-1.7zM613.8,570.2h1.2v1.2h-1.2zM570.5,577.7h1.7v1.7h-1.7zM578.1,547.6h1.2v1.2h-1.2zM553.4,579.8h1.2v1.2h-1.2zM596.6,552.0h1.0v1.0h-1.0zM656.9,582.6h1.0v1.0h-1.0zM575.0,528.0h1.0v1.0h-1.0zM589.3,536.9h1.2v1.2h-1.2zM592.8,541.2h1.0v1.0h-1.0zM591.0,544.4h1.2v1.2h-1.2zM598.2,547.9h1.0v1.0h-1.0zM585.6,547.5h0.9v0.9h-0.9zM588.3,552.7h1.0v1.0h-1.0zM599.0,539.7h0.9v0.9h-0.9zM585.0,542.7h1.0v1.0h-1.0zM582.9,548.7h0.9v0.9h-0.9zM583.4,549.2h1.2v1.2h-1.2zM587.2,542.7h1.0v1.0h-1.0zM603.7,548.7h1.2v1.2h-1.2zM585.4,548.3h1.2v1.2h-1.2zM587.0,542.7h0.9v0.9h-0.9zM587.3,551.0h1.2v1.2h-1.2zM590.3,552.1h1.2v1.2h-1.2zM582.5,547.6h1.0v1.0h-1.0zM586.3,547.6h1.0v1.0h-1.0zM590.6,543.8h1.2v1.2h-1.2zM592.4,547.3h0.9v0.9h-0.9zM581.4,547.4h0.9v0.9h-0.9zM590.6,547.2h1.0v1.0h-1.0zM586.8,543.0h1.2v1.2h-1.2zM593.6,541.7h1.0v1.0h-1.0zM589.2,554.6h1.0v1.0h-1.0zM586.5,543.1h1.2v1.2h-1.2zM587.4,543.7h1.0v1.0h-1.0zM589.6,549.7h1.2v1.2h-1.2zM590.6,556.9h1.2v1.2h-1.2zM599.0,545.1h1.0v1.0h-1.0zM588.5,555.0h0.9v0.9h-0.9zM596.0,537.5h1.2v1.2h-1.2zM596.8,535.9h1.2v1.2h-1.2zM597.6,550.7h1.0v1.0h-1.0zM589.0,542.3h0.9v0.9h-0.9zM589.3,547.8h1.0v1.0h-1.0zM587.2,545.2h1.0v1.0h-1.0zM593.5,556.3h1.2v1.2h-1.2zM584.2,544.3h0.9v0.9h-0.9zM589.7,536.9h1.2v1.2h-1.2zM586.1,543.4h1.2v1.2h-1.2zM587.2,544.4h1.0v1.0h-1.0zM597.4,539.8h0.9v0.9h-0.9zM590.9,549.1h1.2v1.2h-1.2zM581.2,542.1h0.9v0.9h-0.9zM596.4,542.4h1.2v1.2h-1.2zM589.6,545.1h1.2v1.2h-1.2zM591.5,544.1h1.2v1.2h-1.2zM593.7,547.0h1.2v1.2h-1.2zM592.6,546.4h1.2v1.2h-1.2zM591.6,539.9h0.9v0.9h-0.9zM587.8,547.7h1.2v1.2h-1.2zM594.6,551.0h0.9v0.9h-0.9zM589.9,541.5h1.2v1.2h-1.2zM586.9,546.7h1.0v1.0h-1.0zM590.5,546.9h0.9v0.9h-0.9zM593.4,548.9h1.2v1.2h-1.2zM589.2,545.2h1.0v1.0h-1.0zM583.0,545.1h1.0v1.0h-1.0zM591.0,550.3h0.9v0.9h-0.9zM600.9,545.9h1.2v1.2h-1.2zM594.2,544.1h0.9v0.9h-0.9zM594.2,547.3h1.0v1.0h-1.0zM586.0,542.6h1.0v1.0h-1.0zM592.8,545.9h0.9v0.9h-0.9zM582.4,545.5h1.0v1.0h-1.0zM591.1,549.5h0.9v0.9h-0.9zM589.2,544.1h0.9v0.9h-0.9zM590.1,546.0h0.9v0.9h-0.9zM588.0,543.8h1.0v1.0h-1.0zM622.0,541.7h1.0v1.0h-1.0zM622.0,546.2h1.2v1.2h-1.2zM628.6,546.6h0.9v0.9h-0.9zM618.6,542.5h1.0v1.0h-1.0zM618.2,551.3h0.9v0.9h-0.9zM622.4,545.4h1.2v1.2h-1.2zM625.6,543.5h1.2v1.2h-1.2zM618.9,541.5h0.9v0.9h-0.9zM621.3,542.1h1.0v1.0h-1.0zM628.3,545.3h1.0v1.0h-1.0zM631.9,542.5h1.2v1.2h-1.2zM626.4,543.1h1.2v1.2h-1.2zM620.7,541.9h1.2v1.2h-1.2zM621.2,543.3h1.0v1.0h-1.0zM624.7,543.0h0.9v0.9h-0.9zM619.8,547.5h1.0v1.0h-1.0zM622.9,540.6h0.9v0.9h-0.9zM617.1,544.0h1.0v1.0h-1.0zM622.5,544.6h1.0v1.0h-1.0zM618.5,546.7h1.0v1.0h-1.0zM613.9,545.0h1.2v1.2h-1.2zM624.6,549.4h1.2v1.2h-1.2zM622.6,541.3h1.2v1.2h-1.2zM615.6,550.2h1.2v1.2h-1.2zM615.9,537.7h1.0v1.0h-1.0zM620.4,546.4h1.0v1.0h-1.0zM624.1,541.8h1.2v1.2h-1.2zM614.7,545.0h1.0v1.0h-1.0zM622.6,549.2h1.2v1.2h-1.2zM617.4,541.2h1.0v1.0h-1.0zM621.3,538.9h1.0v1.0h-1.0zM620.7,542.8h1.2v1.2h-1.2zM625.5,542.8h1.0v1.0h-1.0zM623.8,539.2h1.0v1.0h-1.0zM622.9,535.5h1.0v1.0h-1.0zM627.8,549.1h1.0v1.0h-1.0zM620.7,545.2h1.2v1.2h-1.2zM622.9,543.9h0.9v0.9h-0.9zM622.3,542.5h1.2v1.2h-1.2zM626.5,546.3h1.2v1.2h-1.2zM613.8,547.7h1.0v1.0h-1.0zM618.6,544.9h1.2v1.2h-1.2zM618.2,542.2h1.2v1.2h-1.2zM626.0,544.6h1.0v1.0h-1.0zM618.3,545.4h1.0v1.0h-1.0zM648.3,544.2h1.2v1.2h-1.2zM643.5,548.8h1.0v1.0h-1.0zM640.6,542.3h0.9v0.9h-0.9zM648.0,548.7h0.9v0.9h-0.9zM640.9,541.8h0.9v0.9h-0.9zM646.8,547.2h1.0v1.0h-1.0zM640.7,539.8h0.9v0.9h-0.9zM644.5,547.9h1.2v1.2h-1.2zM642.4,548.5h1.0v1.0h-1.0zM648.9,547.7h1.0v1.0h-1.0zM656.0,553.7h1.2v1.2h-1.2zM640.4,544.7h1.2v1.2h-1.2zM648.9,542.1h1.0v1.0h-1.0zM648.8,551.9h1.2v1.2h-1.2zM635.5,541.4h1.2v1.2h-1.2zM638.6,540.4h1.0v1.0h-1.0zM647.3,538.9h0.9v0.9h-0.9zM638.4,547.5h1.0v1.0h-1.0zM639.7,538.3h1.0v1.0h-1.0zM633.6,550.9h1.0v1.0h-1.0zM640.7,543.4h1.2v1.2h-1.2zM655.8,547.5h1.0v1.0h-1.0zM635.7,536.5h0.9v0.9h-0.9zM643.0,547.2h0.9v0.9h-0.9zM639.0,543.0h1.0v1.0h-1.0zM635.0,546.6h1.0v1.0h-1.0zM642.3,542.4h1.2v1.2h-1.2zM650.5,537.3h1.0v1.0h-1.0zM639.8,540.9h0.9v0.9h-0.9zM647.2,548.3h0.9v0.9h-0.9zM639.4,548.1h0.9v0.9h-0.9zM646.9,543.3h1.2v1.2h-1.2zM643.3,546.0h0.9v0.9h-0.9zM642.9,543.6h1.0v1.0h-1.0zM634.7,542.2h0.9v0.9h-0.9zM635.4,543.9h1.2v1.2h-1.2zM641.0,544.3h0.9v0.9h-0.9zM644.5,542.9h1.0v1.0h-1.0zM653.7,550.2h1.0v1.0h-1.0zM642.6,543.9h1.0v1.0h-1.0zM647.6,542.0h1.0v1.0h-1.0zM642.2,546.0h1.0v1.0h-1.0zM643.9,540.3h1.0v1.0h-1.0zM643.1,545.1h1.0v1.0h-1.0zM650.1,548.2h1.2v1.2h-1.2zM646.4,540.4h1.0v1.0h-1.0zM646.0,540.6h0.9v0.9h-0.9zM648.6,549.8h1.2v1.2h-1.2zM645.4,548.5h1.0v1.0h-1.0zM651.6,545.7h0.9v0.9h-0.9zM653.8,549.5h0.9v0.9h-0.9zM645.2,551.3h1.0v1.0h-1.0zM639.5,548.7h1.2v1.2h-1.2zM641.6,545.7h1.2v1.2h-1.2zM642.5,544.3h1.0v1.0h-1.0zM646.6,546.0h1.0v1.0h-1.0zM640.5,538.0h0.9v0.9h-0.9zM636.3,534.7h0.9v0.9h-0.9zM649.2,543.2h1.2v1.2h-1.2zM643.0,540.5h0.9v0.9h-0.9zM649.0,548.3h1.2v1.2h-1.2zM648.8,545.9h0.9v0.9h-0.9zM645.0,549.8h1.2v1.2h-1.2zM640.9,548.1h1.2v1.2h-1.2zM636.9,538.8h1.2v1.2h-1.2zM641.5,540.9h1.0v1.0h-1.0zM645.0,534.7h1.2v1.2h-1.2zM652.5,543.9h1.2v1.2h-1.2zM640.0,548.7h1.2v1.2h-1.2zM644.4,548.3h0.9v0.9h-0.9zM559.8,565.1h1.2v1.2h-1.2zM564.3,555.6h1.0v1.0h-1.0zM564.9,559.0h1.0v1.0h-1.0zM562.3,562.3h0.9v0.9h-0.9zM561.0,554.4h1.2v1.2h-1.2zM566.3,564.2h0.9v0.9h-0.9zM563.1,562.0h1.0v1.0h-1.0zM553.9,561.1h1.0v1.0h-1.0zM557.7,558.6h0.9v0.9h-0.9zM561.4,554.2h1.2v1.2h-1.2zM553.7,566.2h1.0v1.0h-1.0zM567.7,565.2h0.9v0.9h-0.9zM562.0,552.0h1.0v1.0h-1.0zM559.3,562.3h1.0v1.0h-1.0zM555.5,563.5h1.0v1.0h-1.0zM559.2,567.4h1.2v1.2h-1.2zM560.1,561.1h1.0v1.0h-1.0zM565.1,564.0h1.0v1.0h-1.0zM558.6,560.9h0.9v0.9h-0.9zM567.2,561.1h1.2v1.2h-1.2zM562.1,566.7h1.0v1.0h-1.0zM559.1,564.6h1.2v1.2h-1.2zM562.4,563.3h1.2v1.2h-1.2zM557.6,560.7h1.2v1.2h-1.2zM561.0,565.8h1.0v1.0h-1.0zM555.3,564.5h1.0v1.0h-1.0zM559.2,573.8h1.0v1.0h-1.0zM561.6,561.8h0.9v0.9h-0.9zM560.7,565.3h0.9v0.9h-0.9zM561.6,568.9h1.2v1.2h-1.2zM562.6,566.0h1.2v1.2h-1.2zM558.8,561.7h1.0v1.0h-1.0zM558.8,563.5h0.9v0.9h-0.9zM558.0,556.2h1.2v1.2h-1.2zM560.5,560.4h1.2v1.2h-1.2zM566.8,566.4h1.0v1.0h-1.0zM561.1,563.4h1.2v1.2h-1.2zM560.7,564.7h1.2v1.2h-1.2zM562.4,566.3h1.0v1.0h-1.0zM563.2,565.8h0.9v0.9h-0.9zM554.3,560.4h1.2v1.2h-1.2zM560.4,560.1h0.9v0.9h-0.9zM560.3,564.3h1.0v1.0h-1.0zM563.3,563.3h1.2v1.2h-1.2zM558.3,565.9h1.0v1.0h-1.0zM548.0,556.8h1.2v1.2h-1.2zM558.5,563.4h1.2v1.2h-1.2zM569.4,566.7h1.0v1.0h-1.0zM565.2,557.1h0.9v0.9h-0.9zM556.8,566.7h0.9v0.9h-0.9zM589.7,567.2h1.2v1.2h-1.2zM602.9,567.5h1.2v1.2h-1.2zM594.8,567.7h1.2v1.2h-1.2zM594.8,563.4h0.9v0.9h-0.9zM584.5,569.1h0.9v0.9h-0.9zM586.6,561.4h1.0v1.0h-1.0zM581.4,552.5h0.9v0.9h-0.9zM585.8,563.8h1.0v1.0h-1.0zM593.2,558.2h1.2v1.2h-1.2zM584.4,557.6h1.0v1.0h-1.0zM592.6,557.0h1.2v1.2h-1.2zM590.7,559.8h1.0v1.0h-1.0zM583.1,551.9h1.2v1.2h-1.2zM586.8,561.0h0.9v0.9h-0.9zM599.3,563.5h1.0v1.0h-1.0zM592.1,555.3h0.9v0.9h-0.9zM573.2,562.3h1.2v1.2h-1.2zM592.1,556.4h0.9v0.9h-0.9zM600.8,557.3h1.2v1.2h-1.2zM586.6,569.2h1.0v1.0h-1.0zM593.3,563.9h1.2v1.2h-1.2zM588.0,548.0h0.9v0.9h-0.9zM582.3,557.7h1.2v1.2h-1.2zM585.3,554.9h0.9v0.9h-0.9zM582.0,558.3h1.2v1.2h-1.2zM616.2,566.6h1.2v1.2h-1.2zM616.4,562.2h0.9v0.9h-0.9zM617.6,555.9h0.9v0.9h-0.9zM609.0,558.9h1.0v1.0h-1.0zM613.4,554.5h0.9v0.9h-0.9zM613.4,562.7h1.0v1.0h-1.0zM619.5,556.3h1.0v1.0h-1.0zM616.9,567.2h0.9v0.9h-0.9zM620.4,552.6h1.0v1.0h-1.0zM614.9,559.4h0.9v0.9h-0.9zM617.0,556.3h1.0v1.0h-1.0zM618.9,556.0h0.9v0.9h-0.9zM623.2,554.2h1.2v1.2h-1.2zM613.0,557.8h1.0v1.0h-1.0zM614.9,570.3h1.2v1.2h-1.2zM627.7,556.9h1.0v1.0h-1.0zM617.2,557.6h1.2v1.2h-1.2zM614.3,557.3h1.2v1.2h-1.2zM617.1,553.4h1.2v1.2h-1.2zM613.0,564.7h1.2v1.2h-1.2zM616.3,557.4h1.0v1.0h-1.0zM617.7,567.2h1.0v1.0h-1.0zM615.6,562.8h0.9v0.9h-0.9zM621.0,560.5h0.9v0.9h-0.9zM602.7,555.0h1.2v1.2h-1.2zM645.7,557.0h1.0v1.0h-1.0zM641.2,558.9h1.2v1.2h-1.2zM636.9,558.1h1.2v1.2h-1.2zM648.0,559.8h0.9v0.9h-0.9zM641.3,561.3h0.9v0.9h-0.9zM636.1,557.3h1.0v1.0h-1.0zM630.5,563.3h0.9v0.9h-0.9zM648.9,563.9h1.0v1.0h-1.0zM636.9,559.3h1.2v1.2h-1.2zM644.2,562.0h1.0v1.0h-1.0zM658.6,568.4h0.9v0.9h-0.9zM629.5,559.5h1.2v1.2h-1.2zM638.7,558.1h1.2v1.2h-1.2zM641.1,567.9h1.2v1.2h-1.2zM641.5,558.7h1.0v1.0h-1.0zM643.6,556.5h0.9v0.9h-0.9zM641.7,556.0h1.2v1.2h-1.2zM641.1,563.3h1.2v1.2h-1.2zM641.6,563.2h1.2v1.2h-1.2zM649.1,565.7h0.9v0.9h-0.9zM632.1,558.9h0.9v0.9h-0.9zM641.9,555.2h1.2v1.2h-1.2zM643.9,562.2h1.0v1.0h-1.0zM644.6,557.3h1.2v1.2h-1.2zM641.8,558.0h1.2v1.2h-1.2z" fill="#6a12f6" opacity="0.85"/>
<g fill="#6a12f6" stroke="#6a12f6" stroke-width="0.9" stroke-linejoin="round" filter="url(#bl4)">
<path d="M554.1,539.1 C554.6,537.7 556.1,536.6 557.3,535.4 C558.6,534.1 560.1,532.6 561.6,531.6 C563.0,530.7 565.1,529.6 566.2,529.7 C567.3,529.9 567.0,531.8 568.1,532.6 C569.2,533.3 571.5,533.7 572.8,534.4 C574.1,535.2 575.5,535.8 576.1,537.2 C576.7,538.7 576.6,540.8 576.6,542.9 C576.6,544.9 576.6,547.4 576.1,549.4 C575.6,551.5 574.6,553.6 573.7,555.1 C572.9,556.5 572.2,557.7 570.9,557.9 C569.7,558.0 567.8,556.7 566.2,556.0 C564.7,555.3 563.0,554.4 561.6,553.6 C560.1,552.9 558.4,552.3 557.3,551.3 C556.2,550.3 555.5,548.8 555.0,547.6 C554.4,546.3 554.2,545.2 554.1,543.8 C553.9,542.4 553.5,540.5 554.1,539.1 Z" fill="#6a12f6" stroke="none"/>
<path d="M557.3,544.7 C557.3,543.5 557.9,542.0 558.7,541.0 C559.6,540.0 560.9,539.2 562.5,538.7 C564.1,538.1 566.4,537.8 568.1,537.7 C569.8,537.6 571.5,537.8 572.8,538.2 C574.1,538.6 575.5,538.5 576.1,540.1 C576.7,541.6 576.6,545.5 576.4,547.6 C576.1,549.6 575.5,551.1 574.7,552.2 C573.8,553.4 572.6,554.4 571.4,554.6 C570.1,554.7 568.7,553.8 567.2,553.2 C565.7,552.6 563.9,551.6 562.5,550.8 C561.1,550.1 559.6,549.5 558.7,548.5 C557.9,547.5 557.3,546.0 557.3,544.7 Z" fill="#2418ff" stroke="none" filter="url(#bl3)"/>
<path d="M559.2,544.7 C559.4,543.8 560.1,542.4 561.1,541.7 C562.1,541.0 563.7,540.7 565.3,540.5 C566.9,540.4 569.3,541.1 570.9,541.0 C572.6,540.9 574.3,539.2 575.1,539.9 C576.0,540.5 576.1,543.0 576.1,544.7 C576.1,546.5 575.8,549.0 575.1,550.4 C574.5,551.8 573.5,552.9 572.3,553.2 C571.2,553.4 569.6,552.4 568.1,551.8 C566.6,551.1 564.8,550.2 563.4,549.4 C562.1,548.7 560.9,548.1 560.1,547.4 C559.4,546.6 559.1,545.7 559.2,544.7 Z" fill="#10c4ff" stroke="none" filter="url(#bl3)"/>
<path d="M561.1,544.7 C561.1,544.0 561.9,543.1 563.0,542.7 C564.0,542.2 565.7,542.1 567.2,542.1 C568.7,542.2 570.5,542.8 571.9,542.9 C573.2,542.9 574.6,541.9 575.1,542.4 C575.7,542.9 575.6,545.0 575.4,546.1 C575.3,547.3 575.0,548.6 574.2,549.4 C573.5,550.2 572.2,550.8 570.9,550.8 C569.7,550.8 568.0,550.0 566.7,549.4 C565.4,548.9 563.9,548.1 563.0,547.4 C562.0,546.6 561.1,545.5 561.1,544.7 Z" fill="#20f050" stroke="none" filter="url(#bl3)"/>
<path d="M563.9,545.2 C563.9,544.4 564.8,543.6 565.8,543.3 C566.7,543.1 568.4,543.3 569.5,543.6 C570.6,543.9 571.9,544.5 572.3,545.2 C572.7,545.9 572.4,547.4 571.9,548.0 C571.3,548.7 570.1,549.2 569.1,549.2 C568.0,549.2 566.6,548.7 565.8,548.0 C564.9,547.4 563.9,546.0 563.9,545.2 Z" fill="#f6f018" stroke="none" filter="url(#bl3)"/>
<ellipse cx="567.4" cy="545.7" rx="2.2" ry="2.2" fill="#ff1408" stroke="none"/>
<path d="M596.7,545.3 L596.5,546.9 L594.1,547.9 L592.2,549.4 L589.1,549.2 L586.2,548.6 L585.2,546.8 L584.7,545.3 L585.5,543.8 L587.0,542.5 L589.4,542.0 L592.1,541.4 L594.4,542.4 L596.7,543.5 Z"/>
<path d="M625.0,543.4 L625.1,545.2 L624.1,546.9 L621.9,547.2 L619.9,547.3 L618.2,546.4 L616.6,545.2 L616.2,543.4 L616.7,541.6 L617.8,539.8 L619.8,539.2 L621.9,539.6 L623.7,540.3 L625.1,541.5 Z"/>
<path d="M649.3,544.6 L649.0,546.9 L647.6,548.8 L645.4,549.7 L643.1,549.9 L641.0,548.8 L639.5,546.9 L639.3,544.6 L639.9,542.5 L641.2,540.7 L643.0,539.1 L645.3,540.0 L647.5,540.6 L649.0,542.4 Z"/>
</g>
</g>
<rect x="697" y="148.8" width="9" height="288.5" fill="url(#cb)"/>
<g stroke="#333" stroke-width="0.8" fill="none">
<path d="M706,171.9 H709"/>
<path d="M706,183.4 H709"/>
<path d="M706,218.3 H709"/>
<path d="M706,241.4 H709"/>
<path d="M706,252.3 H709"/>
<path d="M706,287.2 H709"/>
<path d="M706,356.9 H709"/>
<path d="M706,369.0 H709"/>
<path d="M706,391.7 H709"/>
<path d="M706,403.2 H709"/>
<path d="M706,414.6 H709"/>
<path d="M706,426.4 H709"/>
<path d="M706,206.0 H712"/>
<path d="M706,321.7 H712"/>
</g>
<text class="serif" x="715" y="149.2" font-size="6.6" opacity="1">5.0</text>
<text class="serif" x="715" y="207.2" font-size="6.6" opacity="1">4.0</text>
<text class="serif" x="715" y="264.8" font-size="6.6" opacity="0.45">3.0</text>
<text class="serif" x="715" y="322.8" font-size="6.6" opacity="1">2.0</text>
<text class="serif" x="715" y="380.2" font-size="6.6" opacity="0.5">1.0</text>
<text class="serif" x="730" y="292.4" font-size="6.8" opacity="0.9">x10<tspan dy="-2.8" font-size="6">8</tspan></text>
<text class="mono b" x="699.2" y="444.8" font-size="6.2" textLength="29.5" lengthAdjust="spacingAndGlyphs">Radiance</text>
<text class="mono b" x="700.5" y="450.9" font-size="6" opacity="0.8" textLength="49.5" lengthAdjust="spacingAndGlyphs">(p/sec/cm²/sr)</text>
<rect x="696.4" y="454.3" width="50.3" height="21.3" fill="#fff" stroke="#111" stroke-width="0.8"/>
<text class="mono b" x="699" y="461.4" font-size="6" opacity="0.9" textLength="40" lengthAdjust="spacingAndGlyphs">Color Scale</text>
<text class="mono b" x="699" y="466.6" font-size="6" opacity="0.9" textLength="44.5" lengthAdjust="spacingAndGlyphs">Min = 1.00e6</text>
<text class="mono b" x="699" y="471.8" font-size="6" opacity="0.9" textLength="44.5" lengthAdjust="spacingAndGlyphs">Max = 5.00e8</text>
<rect x="803" y="100" width="464" height="430" fill="#fff"/>
<g stroke="#000" stroke-width="2.4" fill="none">
<path d="M870.9,140.8 V459.34999999999997"/>
<path d="M869.6999999999999,458.15 H1222.1000000000001" stroke-width="2.9"/>
<path d="M865.0,458.15 H870.9" stroke-width="2.9"/>
<path d="M865.0,394.92 H870.9" stroke-width="2.6"/>
<path d="M865.0,331.69 H870.9" stroke-width="2.6"/>
<path d="M865.0,268.46 H870.9" stroke-width="2.6"/>
<path d="M865.0,205.23 H870.9" stroke-width="2.6"/>
<path d="M865.0,142.00 H870.9" stroke-width="2.6"/>
<path d="M870.9,458.15 V464.65"/>
<path d="M940.9,458.15 V464.65"/>
<path d="M1010.9,458.15 V464.65"/>
<path d="M1080.9,458.15 V464.65"/>
<path d="M1150.9,458.15 V464.65"/>
<path d="M1220.9,458.15 V464.65"/>
</g>
<text class="b" transform="translate(862.5,464.1) scale(1.0,1.14)" font-size="14.3" text-anchor="end">20</text>
<text class="b" transform="translate(862.5,400.9) scale(1.0,1.14)" font-size="14.3" text-anchor="end">22</text>
<text class="b" transform="translate(862.5,337.7) scale(1.0,1.14)" font-size="14.3" text-anchor="end">24</text>
<text class="b" transform="translate(862.5,274.5) scale(1.0,1.14)" font-size="14.3" text-anchor="end">26</text>
<text class="b" transform="translate(862.5,211.2) scale(1.0,1.14)" font-size="14.3" text-anchor="end">28</text>
<text class="b" transform="translate(862.5,148.0) scale(1.0,1.14)" font-size="14.3" text-anchor="end">30</text>
<text class="b" transform="translate(870.4,483.0) scale(1.0,1.22)" font-size="14.8" text-anchor="middle">0</text>
<text class="b" transform="translate(940.4,483.0) scale(1.0,1.22)" font-size="14.8" text-anchor="middle">10</text>
<text class="b" transform="translate(1010.4,483.0) scale(1.0,1.22)" font-size="14.8" text-anchor="middle">20</text>
<text class="b" transform="translate(1080.4,483.0) scale(1.0,1.22)" font-size="14.8" text-anchor="middle">30</text>
<text class="b" transform="translate(1150.4,483.0) scale(1.0,1.22)" font-size="14.8" text-anchor="middle">40</text>
<text class="b" transform="translate(1220.4,483.0) scale(1.0,1.22)" font-size="14.8" text-anchor="middle">50</text>
<text class="b" transform="translate(1045.6,508.9) scale(1.0,1.2)" font-size="17.05" text-anchor="middle">Days Post Inoculation (d)</text>
<text class="b" transform="translate(831.6,298.8) rotate(-90) scale(1.128,1.0)" font-size="17.0" text-anchor="middle">Body Weight (g)</text>
<text class="b" transform="translate(1045.5,131.8) scale(1.0,1.2)" font-size="17.1" text-anchor="middle">NCI-H82-Luc</text>
<path d="M876.7,154.8 H895.5" stroke="#000" stroke-width="2.8" fill="none"/>
<ellipse cx="885.7" cy="154.8" rx="3.9" ry="4.2" fill="#000"/>
<text transform="translate(905.6,159.9) scale(1.0,1.13)" font-size="15.0" text-anchor="start">NCG</text>
<g stroke="#000" fill="none">
<path d="M870.9,280.0 V322.2" stroke-width="2.3"/><path d="M867.3,280.0 H874.5 M867.3,322.2 H874.5" stroke-width="2.5"/>
<path d="M898.7,285.6 V316.2" stroke-width="2.3"/><path d="M895.1,285.6 H902.3000000000001 M895.1,316.2 H902.3000000000001" stroke-width="2.5"/>
<path d="M919.7,267.8 V298.7" stroke-width="2.3"/><path d="M916.1,267.8 H923.3000000000001 M916.1,298.7 H923.3000000000001" stroke-width="2.5"/>
<path d="M947.6,270.6 V295.9" stroke-width="2.3"/><path d="M944.0,270.6 H951.2 M944.0,295.9 H951.2" stroke-width="2.5"/>
<path d="M968.7,232.7 V266.9" stroke-width="2.3"/><path d="M965.1,232.7 H972.3000000000001 M965.1,266.9 H972.3000000000001" stroke-width="2.5"/>
<path d="M996.8,233.7 V261.8" stroke-width="2.3"/><path d="M993.1999999999999,233.7 H1000.4 M993.1999999999999,261.8 H1000.4" stroke-width="2.5"/>
<path d="M1017.8,232.7 V258.0" stroke-width="2.3"/><path d="M1014.1999999999999,232.7 H1021.4 M1014.1999999999999,258.0 H1021.4" stroke-width="2.5"/>
<path d="M1045.6,222.6 V266.4" stroke-width="2.3"/><path d="M1042.0,222.6 H1049.1999999999998 M1042.0,266.4 H1049.1999999999998" stroke-width="2.5"/>
<path d="M1066.6,194.7 V242.8" stroke-width="2.3"/><path d="M1063.0,194.7 H1070.1999999999998 M1063.0,242.8 H1070.1999999999998" stroke-width="2.5"/>
<path d="M1094.6,192.0 V238.9" stroke-width="2.3"/><path d="M1091.0,192.0 H1098.1999999999998 M1091.0,238.9 H1098.1999999999998" stroke-width="2.5"/>
<path d="M1115.7,181.5 V235.3" stroke-width="2.3"/><path d="M1112.1000000000001,181.5 H1119.3 M1112.1000000000001,235.3 H1119.3" stroke-width="2.5"/>
<path d="M1143.7,165.2 V247.1" stroke-width="2.3"/><path d="M1140.1000000000001,165.2 H1147.3 M1140.1000000000001,247.1 H1147.3" stroke-width="2.5"/>
<path d="M1157.6,171.3 V269.4" stroke-width="2.3"/><path d="M1154.0,171.3 H1161.1999999999998 M1154.0,269.4 H1161.1999999999998" stroke-width="2.5"/>
</g>
<path d="M870.9,301.2 L898.7,301.2 L919.7,283.4 L947.6,283.4 L968.7,249.6 L996.8,248.1 L1017.8,245.3 L1045.6,244.8 L1066.6,219.0 L1094.6,215.6 L1115.7,208.7 L1143.7,206.0 L1157.6,220.7" stroke="#000" stroke-width="2.7" fill="none" stroke-linejoin="round"/>
<ellipse cx="870.9" cy="301.2" rx="3.9" ry="4.2" fill="#000"/>
<ellipse cx="898.7" cy="301.2" rx="3.9" ry="4.2" fill="#000"/>
<ellipse cx="919.7" cy="283.4" rx="3.9" ry="4.2" fill="#000"/>
<ellipse cx="947.6" cy="283.4" rx="3.9" ry="4.2" fill="#000"/>
<ellipse cx="968.7" cy="249.6" rx="3.9" ry="4.2" fill="#000"/>
<ellipse cx="996.8" cy="248.1" rx="3.9" ry="4.2" fill="#000"/>
<ellipse cx="1017.8" cy="245.3" rx="3.9" ry="4.2" fill="#000"/>
<ellipse cx="1045.6" cy="244.8" rx="3.9" ry="4.2" fill="#000"/>
<ellipse cx="1066.6" cy="219.0" rx="3.9" ry="4.2" fill="#000"/>
<ellipse cx="1094.6" cy="215.6" rx="3.9" ry="4.2" fill="#000"/>
<ellipse cx="1115.7" cy="208.7" rx="3.9" ry="4.2" fill="#000"/>
<ellipse cx="1143.7" cy="206.0" rx="3.9" ry="4.2" fill="#000"/>
<ellipse cx="1157.6" cy="220.7" rx="3.9" ry="4.2" fill="#000"/>
</svg></body></html>
